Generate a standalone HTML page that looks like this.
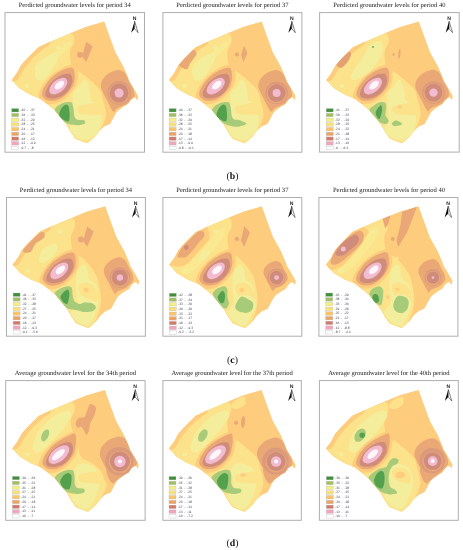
<!DOCTYPE html>
<html><head><meta charset="utf-8"><title>Groundwater level maps</title>
<style>
html,body{margin:0;padding:0;background:#fff}
svg{display:block;text-rendering:geometricPrecision}
.t{font-family:"Liberation Serif",serif;font-size:6.55px;fill:#1c1c1c}
.l{font-family:"Liberation Serif",serif;font-size:9.8px;fill:#111}
.g{font-family:"Liberation Sans",sans-serif;font-size:3.3px;fill:#4a4e58;word-spacing:.8px}
</style></head><body>
<svg width="463" height="550" viewBox="0 0 463 550">
<defs>
<filter id="bl" x="-5%" y="-5%" width="110%" height="110%"><feGaussianBlur stdDeviation="0.42"/></filter>
<filter id="bs" x="-10%" y="-5%" width="120%" height="110%"><feGaussianBlur stdDeviation="0.3"/></filter>
<filter id="bt"><feGaussianBlur stdDeviation="0.12"/></filter>

<clipPath id="oc"><path d="M11.7,80.0 L16.9,73.0 L21.1,65.2 L26.6,59.0 L38.1,47.4 L48.6,42.5 L61.6,36.9 L75.0,31.2 L86.2,26.7 L104.3,21.5 L108.9,34.4 L115.4,52.3 L123.5,66.8 L127.5,76.0 L129.5,81.5 L133.2,87.4 L136.1,92.5 L138.1,96.1 L137.6,99.4 L136.5,99.7 L135.6,97.6 L133.5,97.8 L130.6,100.1 L128.1,104.1 L123.7,106.6 L118.6,110.2 L116.0,113.1 L112.8,119.0 L110.1,123.9 L104.2,126.6 L99.3,130.9 L95.5,136.3 L91.2,140.1 L87.4,143.3 L81.5,141.2 L75.0,138.5 L70.5,132.0 L66.0,124.0 L60.9,117.9 L54.6,110.3 L45.9,103.0 L40.6,98.9 L29.8,94.6 L19.0,88.1Z"/></clipPath>
</defs>
<rect width="463" height="550" fill="#fff"/>
<!-- panel 1 -->
<g>
<text class="t" x="74.75" y="6.6" text-anchor="middle" filter="url(#bt)">Perdicted groundwater levels for period 34</text>
<rect x="5.0" y="12.6" width="139.5" height="139.6" fill="#fff" stroke="#aeaeae" stroke-width="1"/>
<g transform="translate(0,0)">
<g filter="url(#bl)"><g clip-path="url(#oc)">
<rect x="0" y="10" width="150" height="145" fill="#fecc7d"/>
<path fill="#fce28a" d="M9.0,80.0C7.3,74.3 15.5,67.7 20.0,62.0C24.5,56.3 29.3,50.5 36.0,46.0C42.7,41.5 54.0,37.0 60.0,35.0C66.0,33.0 69.7,32.8 72.0,34.0C74.3,35.2 74.3,39.0 74.0,42.0C73.7,45.0 70.3,48.0 70.0,52.0C69.7,56.0 70.3,62.7 72.0,66.0C73.7,69.3 77.0,69.7 80.0,72.0C83.0,74.3 86.7,77.0 90.0,80.0C93.3,83.0 97.8,86.7 100.0,90.0C102.2,93.3 102.0,95.8 103.0,100.0C104.0,104.2 106.5,110.0 106.0,115.0C105.5,120.0 103.2,124.8 100.0,130.0C96.8,135.2 92.0,145.2 87.0,146.0C82.0,146.8 76.2,141.3 70.0,135.0C63.8,128.7 56.7,114.5 50.0,108.0C43.3,101.5 36.8,100.7 30.0,96.0C23.2,91.3 10.7,85.7 9.0,80.0Z"/>
<path fill="#fecc7d" d="M10.0,80.0C9.8,78.7 13.7,75.3 16.0,72.0C18.3,68.7 20.5,64.3 24.0,60.0C27.5,55.7 33.0,49.2 37.0,46.0C41.0,42.8 45.8,41.3 48.0,41.0C50.2,40.7 51.0,42.5 50.0,44.0C49.0,45.5 45.0,47.5 42.0,50.0C39.0,52.5 35.0,55.8 32.0,59.0C29.0,62.2 26.5,65.5 24.0,69.0C21.5,72.5 19.3,78.2 17.0,80.0C14.7,81.8 10.2,81.3 10.0,80.0Z"/>
<path fill="#f8ea94" d="M53.0,54.0C53.5,52.3 57.0,50.8 59.0,49.0C61.0,47.2 63.2,44.8 65.0,43.5C66.8,42.2 69.0,41.2 70.0,41.5C71.0,41.8 71.7,43.6 71.0,45.0C70.3,46.4 67.8,48.2 66.0,50.0C64.2,51.8 61.7,54.5 60.0,56.0C58.3,57.5 57.2,59.3 56.0,59.0C54.8,58.7 52.5,55.7 53.0,54.0Z"/>
<path fill="#f4ee9c" d="M34.8,68.5C35.2,65.7 36.9,64.0 38.9,62.0C40.9,60.0 44.5,57.8 47.0,56.3C49.5,54.8 52.2,53.3 54.0,53.0C55.8,52.7 57.0,53.4 57.5,54.5C58.0,55.6 57.8,57.5 57.2,59.5C56.6,61.5 55.2,64.2 53.8,66.8C52.4,69.4 50.5,72.7 48.6,74.9C46.7,77.2 44.1,79.7 42.1,80.3C40.1,80.9 37.6,80.8 36.4,78.8C35.2,76.8 34.4,71.3 34.8,68.5Z"/>
<ellipse fill="#f4ee9c" cx="58.3" cy="47.4" rx="2.2" ry="2.2"/>
<ellipse fill="#f4ee9c" cx="27.0" cy="86.0" rx="2.5" ry="2.0"/>
<path fill="#f4ee9c" d="M73.0,93.0C73.8,90.3 76.2,90.2 78.0,88.0C79.8,85.8 82.3,80.7 84.0,80.0C85.7,79.3 87.0,81.8 88.0,84.0C89.0,86.2 89.5,90.3 90.0,93.0C90.5,95.7 89.8,98.2 91.0,100.0C92.2,101.8 95.3,102.3 97.0,104.0C98.7,105.7 100.3,106.5 101.0,110.0C101.7,113.5 101.8,120.9 101.0,125.0C100.2,129.1 98.8,131.9 96.5,134.4C94.2,136.9 90.7,139.5 87.4,140.0C84.2,140.5 79.9,139.3 77.0,137.5C74.1,135.7 70.5,132.2 70.0,129.0C69.5,125.8 73.5,122.2 74.0,118.0C74.5,113.8 73.2,108.2 73.0,104.0C72.8,99.8 72.2,95.7 73.0,93.0Z"/>
<path fill="#fce28a" d="M78.0,107.0C79.2,105.6 83.0,105.2 86.0,104.5C89.0,103.8 93.3,102.8 96.0,103.0C98.7,103.2 100.8,104.2 102.0,106.0C103.2,107.8 104.0,112.5 103.0,114.0C102.0,115.5 98.8,114.9 96.0,115.0C93.2,115.1 88.8,114.8 86.0,114.5C83.2,114.2 80.3,114.2 79.0,113.0C77.7,111.8 76.8,108.4 78.0,107.0Z"/>
<polygon fill="#e9a876" points="86.2,41.7 92.7,46.6 86.2,62.0 82.1,56.3"/>
<ellipse fill="#e9a876" cx="80.0" cy="54.7" rx="3.0" ry="3.0"/>
<path fill="#e9a876" d="M100.8,86.3C100.8,84.8 101.3,81.5 102.4,79.8C103.5,78.1 106.7,74.6 108.9,73.3C111.1,72.0 116.4,70.1 118.6,70.1C120.8,70.1 123.6,71.7 125.1,73.3C126.6,74.9 128.4,80.0 129.5,82.0C130.6,84.0 132.5,86.8 133.2,88.5C133.9,90.2 134.7,93.6 134.6,95.0C134.5,96.4 133.6,97.8 132.5,99.0C131.4,100.2 128.8,103.0 126.7,104.3C124.6,105.6 118.8,107.4 117.0,108.4C115.2,109.4 114.6,112.7 113.2,111.5C111.8,110.3 107.9,102.1 106.5,99.4C105.1,96.7 103.2,93.0 102.4,91.3C101.6,89.6 100.8,87.8 100.8,86.3Z"/>
<ellipse fill="#dc9a7c" cx="119.1" cy="93.0" rx="11.7" ry="11.7"/>
<ellipse fill="#e9a876" cx="119.1" cy="93.5" rx="10.6" ry="10.4"/>
<ellipse fill="#d08c7a" cx="119.1" cy="93.0" rx="9.4" ry="9.4"/>
<ellipse fill="#f2bbd0" cx="119.1" cy="93.0" rx="4.5" ry="4.5"/>
<path fill="#fecc7d" d="M76.2,65.5C77.3,67.1 78.1,72.8 78.0,75.9C77.9,79.0 77.2,83.1 75.6,86.2C74.0,89.3 70.1,94.1 67.3,96.7C64.5,99.2 60.2,102.1 57.0,103.1C53.8,104.2 48.5,104.5 45.8,103.7C43.1,103.0 39.8,100.1 38.9,98.3C37.9,96.5 38.5,94.1 39.3,91.7C40.2,89.4 42.6,85.3 44.5,82.7C46.4,80.2 49.2,76.9 51.8,74.7C54.5,72.5 59.3,69.4 62.1,67.9C64.9,66.4 68.3,65.1 70.4,64.7C72.5,64.4 75.0,63.8 76.2,65.5Z"/>
<path fill="#e9a876" d="M73.3,68.6C74.2,70.0 74.9,74.7 74.8,77.3C74.7,79.9 74.1,83.3 72.8,85.9C71.5,88.5 68.2,92.5 65.9,94.6C63.6,96.7 60.0,99.1 57.3,100.0C54.6,100.9 50.3,101.1 48.0,100.5C45.7,99.9 43.0,97.5 42.2,96.0C41.4,94.5 41.9,92.5 42.6,90.5C43.3,88.5 45.3,85.1 46.9,83.0C48.5,80.9 50.8,78.2 53.0,76.3C55.2,74.4 59.3,71.8 61.6,70.6C63.9,69.4 66.7,68.3 68.5,68.0C70.3,67.7 72.4,67.2 73.3,68.6Z"/>
<path fill="#d08c7a" d="M70.4,74.2C71.9,75.2 72.7,79.2 72.4,81.6C72.1,84.0 70.1,88.0 68.5,90.2C66.9,92.4 63.9,95.1 61.6,96.3C59.3,97.5 55.3,98.3 53.0,98.4C50.7,98.5 47.6,98.0 46.5,97.0C45.4,96.0 45.1,93.9 45.6,92.0C46.1,90.1 48.1,86.5 49.5,84.5C50.9,82.5 53.0,80.5 55.0,79.0C57.0,77.5 60.3,75.3 62.6,74.6C64.9,73.9 68.9,73.2 70.4,74.2Z"/>
<ellipse fill="#f2bbd0" cx="58.3" cy="86.1" rx="10.7" ry="6.0" transform="rotate(-40 58.3 86.1)"/>
<ellipse fill="#fff6fa" cx="59.4" cy="85.1" rx="5.7" ry="3.1" transform="rotate(-40 59.4 85.1)"/>
<path fill="#a8cb7a" d="M54.5,110.2C54.5,108.9 56.8,106.4 58.1,105.4C59.4,104.4 62.7,102.8 64.5,102.4C66.3,102.0 70.3,101.6 71.5,102.4C72.7,103.2 73.1,106.8 73.5,108.6C73.9,110.4 73.8,114.4 74.3,115.9C74.8,117.4 76.2,119.2 77.5,119.8C78.8,120.4 83.0,119.8 84.0,120.3C85.0,120.8 85.8,122.7 85.0,123.4C84.2,124.1 80.5,125.1 78.3,125.2C76.1,125.3 70.7,124.6 68.6,124.0C66.5,123.4 63.8,121.9 62.4,120.7C61.0,119.5 59.2,116.5 58.1,115.1C57.0,113.7 54.5,111.5 54.5,110.2Z"/>
<path fill="#52a04e" d="M59.2,113.5C59.5,112.1 60.9,108.9 62.0,107.5C63.1,106.1 65.3,104.5 66.3,104.4C67.3,104.3 68.3,105.3 68.8,107.0C69.3,108.7 69.6,113.4 69.6,115.5C69.6,117.6 69.4,120.6 68.6,121.3C67.8,122.0 65.3,120.7 64.0,120.0C62.7,119.3 60.7,117.9 60.0,116.9C59.3,115.9 58.9,114.9 59.2,113.5Z"/>
</g></g></g>
<g filter="url(#bs)">
<rect x="11.7" y="108.60" width="7" height="3.4" fill="#3f8f3a" stroke="#b8b8b8" stroke-width="0.35"/>
<text class="g" x="20.5" y="111.25">-40 - -37</text>
<rect x="11.7" y="113.32" width="7" height="3.4" fill="#a0c060" stroke="#b8b8b8" stroke-width="0.35"/>
<text class="g" x="20.5" y="115.97">-36 - -33</text>
<rect x="11.7" y="118.04" width="7" height="3.4" fill="#f6f07e" stroke="#b8b8b8" stroke-width="0.35"/>
<text class="g" x="20.5" y="120.69">-32 - -29</text>
<rect x="11.7" y="122.76" width="7" height="3.4" fill="#fde074" stroke="#b8b8b8" stroke-width="0.35"/>
<text class="g" x="20.5" y="125.41">-28 - -25</text>
<rect x="11.7" y="127.48" width="7" height="3.4" fill="#fdc465" stroke="#b8b8b8" stroke-width="0.35"/>
<text class="g" x="20.5" y="130.13">-24 - -21</text>
<rect x="11.7" y="132.20" width="7" height="3.4" fill="#f0a264" stroke="#b8b8b8" stroke-width="0.35"/>
<text class="g" x="20.5" y="134.85">-20 - -17</text>
<rect x="11.7" y="136.92" width="7" height="3.4" fill="#d47868" stroke="#b8b8b8" stroke-width="0.35"/>
<text class="g" x="20.5" y="139.57">-16 - -13</text>
<rect x="11.7" y="141.64" width="7" height="3.4" fill="#f2a4bc" stroke="#b8b8b8" stroke-width="0.35"/>
<text class="g" x="20.5" y="144.29">-12 - -9.9</text>
<rect x="11.7" y="146.36" width="7" height="3.4" fill="#ffffff" stroke="#b8b8b8" stroke-width="0.35"/>
<text class="g" x="20.5" y="149.01">-9.7 - -8</text>
</g>
<g filter="url(#bt)"><text x="134.6" y="19.7" font-family="Liberation Sans, sans-serif" font-size="5.1" font-weight="bold" text-anchor="middle" fill="#222">N</text><polygon points="134.6,21.2 131.1,32.7 134.6,28.799999999999997" fill="#111"/><polygon points="134.6,21.2 138.1,32.7 134.6,28.799999999999997" fill="#fff" stroke="#111" stroke-width="0.5" stroke-linejoin="miter"/></g>
</g>
<!-- panel 2 -->
<g>
<text class="t" x="232.40" y="6.6" text-anchor="middle" filter="url(#bt)">Perdicted groundwater levels for period 37</text>
<rect x="162.9" y="12.6" width="139.0" height="139.6" fill="#fff" stroke="#aeaeae" stroke-width="1"/>
<g transform="translate(157.4,0)">
<g filter="url(#bl)"><g clip-path="url(#oc)">
<rect x="0" y="10" width="150" height="145" fill="#fecc7d"/>
<path fill="#fce28a" d="M9.0,80.0C7.3,74.3 15.5,67.7 20.0,62.0C24.5,56.3 29.3,50.5 36.0,46.0C42.7,41.5 54.0,37.0 60.0,35.0C66.0,33.0 69.7,32.8 72.0,34.0C74.3,35.2 74.3,39.0 74.0,42.0C73.7,45.0 70.3,48.0 70.0,52.0C69.7,56.0 70.3,62.7 72.0,66.0C73.7,69.3 77.0,69.7 80.0,72.0C83.0,74.3 86.7,77.0 90.0,80.0C93.3,83.0 97.8,86.7 100.0,90.0C102.2,93.3 102.0,95.8 103.0,100.0C104.0,104.2 106.5,110.0 106.0,115.0C105.5,120.0 103.2,124.8 100.0,130.0C96.8,135.2 92.0,145.2 87.0,146.0C82.0,146.8 76.2,141.3 70.0,135.0C63.8,128.7 56.7,114.5 50.0,108.0C43.3,101.5 36.8,100.7 30.0,96.0C23.2,91.3 10.7,85.7 9.0,80.0Z"/>
<path fill="#fecc7d" d="M10.0,80.0C9.8,78.7 13.7,75.3 16.0,72.0C18.3,68.7 20.5,64.3 24.0,60.0C27.5,55.7 33.0,49.2 37.0,46.0C41.0,42.8 45.8,41.3 48.0,41.0C50.2,40.7 51.0,42.5 50.0,44.0C49.0,45.5 45.0,47.5 42.0,50.0C39.0,52.5 35.0,55.8 32.0,59.0C29.0,62.2 26.5,65.5 24.0,69.0C21.5,72.5 19.3,78.2 17.0,80.0C14.7,81.8 10.2,81.3 10.0,80.0Z"/>
<path fill="#f8ea94" d="M53.0,54.0C53.5,52.3 57.0,50.8 59.0,49.0C61.0,47.2 63.2,44.8 65.0,43.5C66.8,42.2 69.0,41.2 70.0,41.5C71.0,41.8 71.7,43.6 71.0,45.0C70.3,46.4 67.8,48.2 66.0,50.0C64.2,51.8 61.7,54.5 60.0,56.0C58.3,57.5 57.2,59.3 56.0,59.0C54.8,58.7 52.5,55.7 53.0,54.0Z"/>
<path fill="#f4ee9c" d="M34.8,68.5C35.2,65.7 36.9,64.0 38.9,62.0C40.9,60.0 44.5,57.8 47.0,56.3C49.5,54.8 52.2,53.3 54.0,53.0C55.8,52.7 57.0,53.4 57.5,54.5C58.0,55.6 57.8,57.5 57.2,59.5C56.6,61.5 55.2,64.2 53.8,66.8C52.4,69.4 50.5,72.7 48.6,74.9C46.7,77.2 44.1,79.7 42.1,80.3C40.1,80.9 37.6,80.8 36.4,78.8C35.2,76.8 34.4,71.3 34.8,68.5Z"/>
<ellipse fill="#f4ee9c" cx="58.3" cy="47.4" rx="2.2" ry="2.2"/>
<ellipse fill="#f4ee9c" cx="27.0" cy="86.0" rx="2.5" ry="2.0"/>
<path fill="#f4ee9c" d="M73.0,93.0C73.8,90.3 76.2,90.2 78.0,88.0C79.8,85.8 82.3,80.7 84.0,80.0C85.7,79.3 87.0,81.8 88.0,84.0C89.0,86.2 89.5,90.3 90.0,93.0C90.5,95.7 89.8,98.2 91.0,100.0C92.2,101.8 95.3,102.3 97.0,104.0C98.7,105.7 100.3,106.5 101.0,110.0C101.7,113.5 101.8,120.9 101.0,125.0C100.2,129.1 98.8,131.9 96.5,134.4C94.2,136.9 90.7,139.5 87.4,140.0C84.2,140.5 79.9,139.3 77.0,137.5C74.1,135.7 70.5,132.2 70.0,129.0C69.5,125.8 73.5,122.2 74.0,118.0C74.5,113.8 73.2,108.2 73.0,104.0C72.8,99.8 72.2,95.7 73.0,93.0Z"/>
<path fill="#fce28a" d="M78.0,107.0C79.2,105.6 83.0,105.2 86.0,104.5C89.0,103.8 93.3,102.8 96.0,103.0C98.7,103.2 100.8,104.2 102.0,106.0C103.2,107.8 104.0,112.5 103.0,114.0C102.0,115.5 98.8,114.9 96.0,115.0C93.2,115.1 88.8,114.8 86.0,114.5C83.2,114.2 80.3,114.2 79.0,113.0C77.7,111.8 76.8,108.4 78.0,107.0Z"/>
<path fill="#e9a876" d="M20.8,64.4C20.6,62.6 25.9,57.8 27.8,55.8C29.7,53.8 33.4,49.6 34.9,49.3C36.5,49.1 39.4,52.1 39.2,53.9C38.9,55.7 34.3,60.7 33.0,62.8C31.7,64.8 31.1,69.0 29.4,69.3C27.8,69.5 21.1,66.2 20.8,64.4Z"/>
<polygon fill="#e9a876" points="86.8,45.8 90.0,53.1 86.0,62.0 83.6,54.7"/>
<ellipse fill="#e9a876" cx="79.5" cy="54.4" rx="2.0" ry="2.0"/>
<path fill="#e9a876" d="M100.9,86.3C100.9,84.8 101.4,81.5 102.5,79.8C103.6,78.1 106.8,74.6 109.0,73.3C111.2,72.0 116.5,70.1 118.7,70.1C120.9,70.1 123.7,71.7 125.2,73.3C126.7,74.9 128.5,80.0 129.6,82.0C130.7,84.0 132.6,86.8 133.3,88.5C134.0,90.2 134.8,93.6 134.7,95.0C134.6,96.4 133.7,97.8 132.6,99.0C131.5,100.2 128.9,103.0 126.8,104.3C124.7,105.6 118.9,107.4 117.1,108.4C115.3,109.4 114.7,112.7 113.3,111.5C111.9,110.3 108.0,102.1 106.6,99.4C105.2,96.7 103.3,93.0 102.5,91.3C101.7,89.6 100.9,87.8 100.9,86.3Z"/>
<ellipse fill="#dc9a7c" cx="119.2" cy="93.0" rx="11.2" ry="11.2"/>
<ellipse fill="#e9a876" cx="119.2" cy="93.5" rx="10.1" ry="9.9"/>
<ellipse fill="#d08c7a" cx="119.2" cy="93.0" rx="8.9" ry="8.9"/>
<ellipse fill="#f2bbd0" cx="119.2" cy="93.0" rx="4.0" ry="4.0"/>
<path fill="#fecc7d" d="M76.2,65.5C77.3,67.1 78.1,72.8 78.0,75.9C77.9,79.0 77.2,83.1 75.6,86.2C74.0,89.3 70.1,94.1 67.3,96.7C64.5,99.2 60.2,102.1 57.0,103.1C53.8,104.2 48.5,104.5 45.8,103.7C43.1,103.0 39.8,100.1 38.9,98.3C37.9,96.5 38.5,94.1 39.3,91.7C40.2,89.4 42.6,85.3 44.5,82.7C46.4,80.2 49.2,76.9 51.8,74.7C54.5,72.5 59.3,69.4 62.1,67.9C64.9,66.4 68.3,65.1 70.4,64.7C72.5,64.4 75.0,63.8 76.2,65.5Z"/>
<path fill="#e9a876" d="M73.3,68.6C74.2,70.0 74.9,74.7 74.8,77.3C74.7,79.9 74.1,83.3 72.8,85.9C71.5,88.5 68.2,92.5 65.9,94.6C63.6,96.7 60.0,99.1 57.3,100.0C54.6,100.9 50.3,101.1 48.0,100.5C45.7,99.9 43.0,97.5 42.2,96.0C41.4,94.5 41.9,92.5 42.6,90.5C43.3,88.5 45.3,85.1 46.9,83.0C48.5,80.9 50.8,78.2 53.0,76.3C55.2,74.4 59.3,71.8 61.6,70.6C63.9,69.4 66.7,68.3 68.5,68.0C70.3,67.7 72.4,67.2 73.3,68.6Z"/>
<path fill="#d08c7a" d="M70.4,74.2C71.9,75.2 72.7,79.2 72.4,81.6C72.1,84.0 70.1,88.0 68.5,90.2C66.9,92.4 63.9,95.1 61.6,96.3C59.3,97.5 55.3,98.3 53.0,98.4C50.7,98.5 47.6,98.0 46.5,97.0C45.4,96.0 45.1,93.9 45.6,92.0C46.1,90.1 48.1,86.5 49.5,84.5C50.9,82.5 53.0,80.5 55.0,79.0C57.0,77.5 60.3,75.3 62.6,74.6C64.9,73.9 68.9,73.2 70.4,74.2Z"/>
<ellipse fill="#f2bbd0" cx="58.3" cy="86.1" rx="10.7" ry="6.0" transform="rotate(-40 58.3 86.1)"/>
<ellipse fill="#fff6fa" cx="59.4" cy="85.1" rx="5.7" ry="3.1" transform="rotate(-40 59.4 85.1)"/>
<path fill="#a8cb7a" d="M54.5,110.2C54.5,108.9 56.8,106.4 58.1,105.4C59.4,104.4 62.7,102.8 64.5,102.4C66.3,102.0 70.3,101.6 71.5,102.4C72.7,103.2 73.1,106.8 73.5,108.6C73.9,110.4 73.8,114.4 74.3,115.9C74.8,117.4 76.0,119.0 77.0,119.5C78.0,120.0 80.4,119.4 82.0,120.0C83.6,120.6 89.2,122.8 89.2,123.7C89.2,124.6 83.8,126.1 82.0,126.5C80.2,126.9 77.8,126.8 76.0,126.5C74.2,126.2 70.4,125.3 68.6,124.5C66.8,123.7 63.8,122.0 62.4,120.7C61.0,119.4 59.2,116.5 58.1,115.1C57.0,113.7 54.5,111.5 54.5,110.2Z"/>
<path fill="#52a04e" d="M59.2,113.5C59.5,112.1 60.9,108.9 62.0,107.5C63.1,106.1 65.3,104.5 66.3,104.4C67.3,104.3 68.3,105.3 68.8,107.0C69.3,108.7 69.6,113.4 69.6,115.5C69.6,117.6 69.4,120.6 68.6,121.3C67.8,122.0 65.3,120.7 64.0,120.0C62.7,119.3 60.7,117.9 60.0,116.9C59.3,115.9 58.9,114.9 59.2,113.5Z"/>
</g></g></g>
<g filter="url(#bs)">
<rect x="169.1" y="108.60" width="7" height="3.4" fill="#3f8f3a" stroke="#b8b8b8" stroke-width="0.35"/>
<text class="g" x="177.9" y="111.25">-40 - -37</text>
<rect x="169.1" y="113.32" width="7" height="3.4" fill="#a0c060" stroke="#b8b8b8" stroke-width="0.35"/>
<text class="g" x="177.9" y="115.97">-36 - -33</text>
<rect x="169.1" y="118.04" width="7" height="3.4" fill="#f6f07e" stroke="#b8b8b8" stroke-width="0.35"/>
<text class="g" x="177.9" y="120.69">-32 - -29</text>
<rect x="169.1" y="122.76" width="7" height="3.4" fill="#fde074" stroke="#b8b8b8" stroke-width="0.35"/>
<text class="g" x="177.9" y="125.41">-28 - -25</text>
<rect x="169.1" y="127.48" width="7" height="3.4" fill="#fdc465" stroke="#b8b8b8" stroke-width="0.35"/>
<text class="g" x="177.9" y="130.13">-24 - -21</text>
<rect x="169.1" y="132.20" width="7" height="3.4" fill="#f0a264" stroke="#b8b8b8" stroke-width="0.35"/>
<text class="g" x="177.9" y="134.85">-20 - -18</text>
<rect x="169.1" y="136.92" width="7" height="3.4" fill="#d47868" stroke="#b8b8b8" stroke-width="0.35"/>
<text class="g" x="177.9" y="139.57">-17 - -14</text>
<rect x="169.1" y="141.64" width="7" height="3.4" fill="#f2a4bc" stroke="#b8b8b8" stroke-width="0.35"/>
<text class="g" x="177.9" y="144.29">-13 - -9.9</text>
<rect x="169.1" y="146.36" width="7" height="3.4" fill="#ffffff" stroke="#b8b8b8" stroke-width="0.35"/>
<text class="g" x="177.9" y="149.01">-9.8 - -6.1</text>
</g>
<g filter="url(#bt)"><text x="291.8" y="19.7" font-family="Liberation Sans, sans-serif" font-size="5.1" font-weight="bold" text-anchor="middle" fill="#222">N</text><polygon points="291.8,21.2 288.3,32.7 291.8,28.799999999999997" fill="#111"/><polygon points="291.8,21.2 295.3,32.7 291.8,28.799999999999997" fill="#fff" stroke="#111" stroke-width="0.5" stroke-linejoin="miter"/></g>
</g>
<!-- panel 3 -->
<g>
<text class="t" x="389.40" y="6.6" text-anchor="middle" filter="url(#bt)">Perdicted groundwater levels for period 40</text>
<rect x="319.6" y="12.6" width="139.6" height="139.5" fill="#fff" stroke="#aeaeae" stroke-width="1"/>
<g transform="translate(314.6,0)">
<g filter="url(#bl)"><g clip-path="url(#oc)">
<rect x="0" y="10" width="150" height="145" fill="#fecc7d"/>
<path fill="#fce28a" d="M9.0,80.0C7.3,74.3 15.5,67.7 20.0,62.0C24.5,56.3 29.3,50.5 36.0,46.0C42.7,41.5 54.0,37.0 60.0,35.0C66.0,33.0 69.7,32.8 72.0,34.0C74.3,35.2 74.3,39.0 74.0,42.0C73.7,45.0 70.3,48.0 70.0,52.0C69.7,56.0 70.3,62.7 72.0,66.0C73.7,69.3 77.0,69.7 80.0,72.0C83.0,74.3 86.7,77.0 90.0,80.0C93.3,83.0 97.8,86.7 100.0,90.0C102.2,93.3 102.0,95.8 103.0,100.0C104.0,104.2 106.5,110.0 106.0,115.0C105.5,120.0 103.2,124.8 100.0,130.0C96.8,135.2 92.0,145.2 87.0,146.0C82.0,146.8 76.2,141.3 70.0,135.0C63.8,128.7 56.7,114.5 50.0,108.0C43.3,101.5 36.8,100.7 30.0,96.0C23.2,91.3 10.7,85.7 9.0,80.0Z"/>
<path fill="#fecc7d" d="M10.0,80.0C9.8,78.7 13.7,75.3 16.0,72.0C18.3,68.7 20.5,64.3 24.0,60.0C27.5,55.7 33.0,49.2 37.0,46.0C41.0,42.8 45.8,41.3 48.0,41.0C50.2,40.7 51.0,42.5 50.0,44.0C49.0,45.5 45.0,47.5 42.0,50.0C39.0,52.5 35.0,55.8 32.0,59.0C29.0,62.2 26.5,65.5 24.0,69.0C21.5,72.5 19.3,78.2 17.0,80.0C14.7,81.8 10.2,81.3 10.0,80.0Z"/>
<path fill="#f4ee9c" d="M36.2,77.4C36.2,75.5 38.3,71.8 40.3,68.5C42.3,65.1 45.9,60.9 48.4,57.1C50.8,53.3 52.4,48.5 54.9,45.8C57.3,43.1 60.8,41.2 63.0,40.9C65.1,40.6 67.3,41.7 67.8,44.2C68.4,46.6 67.8,51.4 66.2,55.5C64.6,59.5 61.1,64.9 58.1,68.5C55.1,72.0 51.3,74.7 48.4,76.6C45.4,78.4 42.3,79.7 40.3,79.8C38.3,79.9 36.2,79.3 36.2,77.4Z"/>
<ellipse fill="#f4ee9c" cx="27.0" cy="86.0" rx="2.5" ry="2.0"/>
<path fill="#f4ee9c" d="M73.0,93.0C73.8,90.3 76.2,90.2 78.0,88.0C79.8,85.8 82.3,80.7 84.0,80.0C85.7,79.3 87.0,81.8 88.0,84.0C89.0,86.2 89.5,90.3 90.0,93.0C90.5,95.7 89.8,98.2 91.0,100.0C92.2,101.8 95.3,102.3 97.0,104.0C98.7,105.7 100.3,106.5 101.0,110.0C101.7,113.5 101.8,120.9 101.0,125.0C100.2,129.1 98.8,131.9 96.5,134.4C94.2,136.9 90.7,139.5 87.4,140.0C84.2,140.5 79.9,139.3 77.0,137.5C74.1,135.7 70.5,132.2 70.0,129.0C69.5,125.8 73.5,122.2 74.0,118.0C74.5,113.8 73.2,108.2 73.0,104.0C72.8,99.8 72.2,95.7 73.0,93.0Z"/>
<path fill="#fce28a" d="M78.0,107.0C79.2,105.6 83.0,105.2 86.0,104.5C89.0,103.8 93.3,102.8 96.0,103.0C98.7,103.2 100.8,104.2 102.0,106.0C103.2,107.8 104.0,112.5 103.0,114.0C102.0,115.5 98.8,114.9 96.0,115.0C93.2,115.1 88.8,114.8 86.0,114.5C83.2,114.2 80.3,114.2 79.0,113.0C77.7,111.8 76.8,108.4 78.0,107.0Z"/>
<path fill="#e2a073" d="M22.1,63.6C22.9,62.2 27.2,57.9 28.9,56.3C30.7,54.7 34.4,51.6 35.4,51.4C36.4,51.3 36.6,54.1 36.2,55.5C35.9,56.9 34.2,60.4 33.0,62.0C31.8,63.6 28.6,67.0 27.3,67.6C26.0,68.3 24.0,67.4 23.3,66.8C22.6,66.3 21.4,65.0 22.1,63.6Z"/>
<ellipse fill="#52a04e" cx="58.4" cy="46.9" rx="0.9" ry="0.9"/>
<ellipse fill="#e9a876" cx="84.8" cy="53.9" rx="1.0" ry="4.9" transform="rotate(5 84.8 53.9)"/>
<ellipse fill="#e9a876" cx="79.0" cy="54.4" rx="1.2" ry="1.2"/>
<ellipse fill="#fecc7d" cx="85.2" cy="106.7" rx="2.0" ry="2.0"/>
<path fill="#e9a876" d="M100.6,85.9C100.6,84.4 101.1,81.1 102.2,79.4C103.3,77.7 106.5,74.2 108.7,72.9C110.9,71.6 116.2,69.7 118.4,69.7C120.6,69.7 123.4,71.3 124.9,72.9C126.4,74.5 128.2,79.6 129.3,81.6C130.4,83.6 132.3,86.4 133.0,88.1C133.7,89.8 134.5,93.2 134.4,94.6C134.3,96.0 133.4,97.4 132.3,98.6C131.2,99.8 128.6,102.6 126.5,103.9C124.4,105.2 118.6,107.0 116.8,108.0C115.0,109.0 114.4,112.3 113.0,111.1C111.6,109.9 107.7,101.7 106.3,99.0C104.9,96.3 103.0,92.6 102.2,90.9C101.4,89.2 100.6,87.4 100.6,85.9Z"/>
<ellipse fill="#dc9a7c" cx="118.9" cy="92.6" rx="11.3" ry="11.3"/>
<ellipse fill="#e9a876" cx="118.9" cy="93.1" rx="10.2" ry="10.0"/>
<ellipse fill="#d08c7a" cx="118.9" cy="92.6" rx="9.0" ry="9.0"/>
<ellipse fill="#f2bbd0" cx="118.9" cy="92.6" rx="4.2" ry="4.2"/>
<path fill="#fecc7d" d="M76.2,65.5C77.3,67.1 78.1,72.8 78.0,75.9C77.9,79.0 77.2,83.1 75.6,86.2C74.0,89.3 70.1,94.1 67.3,96.7C64.5,99.2 60.2,102.1 57.0,103.1C53.8,104.2 48.5,104.5 45.8,103.7C43.1,103.0 39.8,100.1 38.9,98.3C37.9,96.5 38.5,94.1 39.3,91.7C40.2,89.4 42.6,85.3 44.5,82.7C46.4,80.2 49.2,76.9 51.8,74.7C54.5,72.5 59.3,69.4 62.1,67.9C64.9,66.4 68.3,65.1 70.4,64.7C72.5,64.4 75.0,63.8 76.2,65.5Z"/>
<path fill="#e9a876" d="M73.3,68.6C74.2,70.0 74.9,74.7 74.8,77.3C74.7,79.9 74.1,83.3 72.8,85.9C71.5,88.5 68.2,92.5 65.9,94.6C63.6,96.7 60.0,99.1 57.3,100.0C54.6,100.9 50.3,101.1 48.0,100.5C45.7,99.9 43.0,97.5 42.2,96.0C41.4,94.5 41.9,92.5 42.6,90.5C43.3,88.5 45.3,85.1 46.9,83.0C48.5,80.9 50.8,78.2 53.0,76.3C55.2,74.4 59.3,71.8 61.6,70.6C63.9,69.4 66.7,68.3 68.5,68.0C70.3,67.7 72.4,67.2 73.3,68.6Z"/>
<path fill="#d08c7a" d="M70.4,74.2C71.9,75.2 72.7,79.2 72.4,81.6C72.1,84.0 70.1,88.0 68.5,90.2C66.9,92.4 63.9,95.1 61.6,96.3C59.3,97.5 55.3,98.3 53.0,98.4C50.7,98.5 47.6,98.0 46.5,97.0C45.4,96.0 45.1,93.9 45.6,92.0C46.1,90.1 48.1,86.5 49.5,84.5C50.9,82.5 53.0,80.5 55.0,79.0C57.0,77.5 60.3,75.3 62.6,74.6C64.9,73.9 68.9,73.2 70.4,74.2Z"/>
<ellipse fill="#f2bbd0" cx="58.3" cy="86.1" rx="10.7" ry="6.0" transform="rotate(-40 58.3 86.1)"/>
<ellipse fill="#fff6fa" cx="59.4" cy="85.1" rx="5.7" ry="3.1" transform="rotate(-40 59.4 85.1)"/>
<path fill="#a8cb7a" d="M54.6,110.2C54.5,108.7 58.0,106.4 59.5,105.4C61.0,104.3 64.4,102.4 65.9,102.1C67.5,101.8 70.1,102.1 70.8,102.9C71.6,103.8 71.6,107.0 71.6,108.6C71.6,110.2 70.5,113.5 70.8,115.1C71.1,116.7 73.9,119.6 74.0,120.7C74.2,121.9 72.8,123.8 71.6,124.0C70.4,124.2 66.6,123.3 65.1,122.4C63.6,121.4 61.7,118.3 60.3,116.7C58.9,115.1 54.7,111.7 54.6,110.2Z"/>
<path fill="#52a04e" d="M61.1,111.8C61.4,110.6 63.6,107.8 64.3,107.0C65.1,106.1 66.3,104.9 66.8,105.4C67.2,105.8 67.7,108.7 67.6,110.2C67.5,111.7 66.4,115.5 65.9,116.7C65.5,117.9 64.9,119.2 64.3,119.1C63.8,119.0 62.3,116.9 61.9,115.9C61.5,114.9 60.8,113.0 61.1,111.8Z"/>
<path fill="#a8cb7a" d="M77.1,123.7C77.2,123.0 79.5,120.9 80.5,120.6C81.5,120.3 83.6,121.1 84.5,121.5C85.4,121.9 87.7,123.4 87.6,123.9C87.5,124.4 85.0,125.3 84.0,125.6C83.0,125.9 80.9,126.5 80.0,126.2C79.1,125.9 77.0,124.4 77.1,123.7Z"/>
</g></g></g>
<g filter="url(#bs)">
<rect x="326.2" y="108.60" width="7" height="3.4" fill="#3f8f3a" stroke="#b8b8b8" stroke-width="0.35"/>
<text class="g" x="335.0" y="111.25">-41 - -37</text>
<rect x="326.2" y="113.32" width="7" height="3.4" fill="#a0c060" stroke="#b8b8b8" stroke-width="0.35"/>
<text class="g" x="335.0" y="115.97">-36 - -33</text>
<rect x="326.2" y="118.04" width="7" height="3.4" fill="#f6f07e" stroke="#b8b8b8" stroke-width="0.35"/>
<text class="g" x="335.0" y="120.69">-32 - -29</text>
<rect x="326.2" y="122.76" width="7" height="3.4" fill="#fde074" stroke="#b8b8b8" stroke-width="0.35"/>
<text class="g" x="335.0" y="125.41">-28 - -25</text>
<rect x="326.2" y="127.48" width="7" height="3.4" fill="#fdc465" stroke="#b8b8b8" stroke-width="0.35"/>
<text class="g" x="335.0" y="130.13">-24 - -22</text>
<rect x="326.2" y="132.20" width="7" height="3.4" fill="#f0a264" stroke="#b8b8b8" stroke-width="0.35"/>
<text class="g" x="335.0" y="134.85">-21 - -18</text>
<rect x="326.2" y="136.92" width="7" height="3.4" fill="#d47868" stroke="#b8b8b8" stroke-width="0.35"/>
<text class="g" x="335.0" y="139.57">-17 - -14</text>
<rect x="326.2" y="141.64" width="7" height="3.4" fill="#f2a4bc" stroke="#b8b8b8" stroke-width="0.35"/>
<text class="g" x="335.0" y="144.29">-13 - -10</text>
<rect x="326.2" y="146.36" width="7" height="3.4" fill="#ffffff" stroke="#b8b8b8" stroke-width="0.35"/>
<text class="g" x="335.0" y="149.01">-9 - -6.3</text>
</g>
<g filter="url(#bt)"><text x="449.1" y="19.7" font-family="Liberation Sans, sans-serif" font-size="5.1" font-weight="bold" text-anchor="middle" fill="#222">N</text><polygon points="449.1,21.2 445.6,32.7 449.1,28.799999999999997" fill="#111"/><polygon points="449.1,21.2 452.6,32.7 449.1,28.799999999999997" fill="#fff" stroke="#111" stroke-width="0.5" stroke-linejoin="miter"/></g>
</g>
<!-- panel 4 -->
<g>
<text class="t" x="75.95" y="191.8" text-anchor="middle" filter="url(#bt)">Perdicted groundwater levels for period 34</text>
<rect x="6.5" y="197.5" width="138.9" height="138.7" fill="#fff" stroke="#aeaeae" stroke-width="1"/>
<g transform="translate(1.0,184.8)">
<g filter="url(#bl)"><g clip-path="url(#oc)">
<rect x="0" y="10" width="150" height="145" fill="#fecc7d"/>
<path fill="#fce28a" d="M9.0,80.0C7.3,74.3 15.5,67.7 20.0,62.0C24.5,56.3 29.3,50.5 36.0,46.0C42.7,41.5 54.0,37.0 60.0,35.0C66.0,33.0 69.7,32.8 72.0,34.0C74.3,35.2 74.3,39.0 74.0,42.0C73.7,45.0 70.3,48.0 70.0,52.0C69.7,56.0 70.3,62.7 72.0,66.0C73.7,69.3 77.3,69.7 80.0,72.0C82.7,74.3 85.5,77.0 88.0,80.0C90.5,83.0 93.3,86.7 95.0,90.0C96.7,93.3 97.2,95.8 98.0,100.0C98.8,104.2 100.2,110.0 100.0,115.0C99.8,120.0 99.2,124.8 97.0,130.0C94.8,135.2 91.5,145.2 87.0,146.0C82.5,146.8 76.2,141.3 70.0,135.0C63.8,128.7 56.7,114.5 50.0,108.0C43.3,101.5 36.8,100.7 30.0,96.0C23.2,91.3 10.7,85.7 9.0,80.0Z"/>
<path fill="#fecc7d" d="M10.0,80.0C9.8,78.7 13.7,75.3 16.0,72.0C18.3,68.7 20.5,64.3 24.0,60.0C27.5,55.7 33.0,49.2 37.0,46.0C41.0,42.8 45.8,41.3 48.0,41.0C50.2,40.7 51.0,42.5 50.0,44.0C49.0,45.5 45.0,47.5 42.0,50.0C39.0,52.5 35.0,55.8 32.0,59.0C29.0,62.2 26.5,65.5 24.0,69.0C21.5,72.5 19.3,78.2 17.0,80.0C14.7,81.8 10.2,81.3 10.0,80.0Z"/>
<path fill="#f4ee9c" d="M37.9,75.1C37.9,73.0 39.5,67.8 41.1,65.4C42.7,63.0 45.4,61.6 47.6,60.6C49.8,59.5 52.6,58.7 54.1,58.9C55.6,59.2 56.5,60.6 56.5,62.2C56.5,63.8 55.6,66.5 54.1,68.7C52.6,70.8 49.8,73.5 47.6,75.1C45.4,76.8 42.7,78.4 41.1,78.4C39.5,78.4 37.9,77.3 37.9,75.1Z"/>
<ellipse fill="#f4ee9c" cx="58.9" cy="46.8" rx="2.4" ry="2.4"/>
<ellipse fill="#f4ee9c" cx="27.0" cy="86.0" rx="2.5" ry="2.0"/>
<path fill="#f4ee9c" d="M76.0,88.0C77.2,84.0 80.3,80.7 82.0,80.0C83.7,79.3 85.0,81.7 86.0,84.0C87.0,86.3 86.5,91.3 88.0,94.0C89.5,96.7 93.5,97.3 95.0,100.0C96.5,102.7 96.8,106.0 97.0,110.0C97.2,114.0 97.5,119.0 96.0,124.0C94.5,129.0 91.0,137.7 88.0,140.0C85.0,142.3 81.0,140.0 78.0,138.0C75.0,136.0 70.3,131.3 70.0,128.0C69.7,124.7 75.2,122.0 76.0,118.0C76.8,114.0 75.0,109.0 75.0,104.0C75.0,99.0 74.8,92.0 76.0,88.0Z"/>
<path fill="#fce28a" d="M78.0,100.0C79.3,98.0 85.0,97.0 88.0,98.0C91.0,99.0 94.7,103.0 96.0,106.0C97.3,109.0 97.3,114.7 96.0,116.0C94.7,117.3 90.7,115.0 88.0,114.0C85.3,113.0 81.7,112.3 80.0,110.0C78.3,107.7 76.7,102.0 78.0,100.0Z"/>
<path fill="#e9a876" d="M22.5,64.6C23.6,62.9 29.1,57.2 31.4,54.9C33.7,52.6 37.9,48.5 39.5,47.6C41.1,46.7 43.1,47.7 43.5,48.4C44.0,49.2 43.9,51.9 42.7,53.3C41.5,54.7 36.4,57.1 34.6,58.9C32.9,60.8 31.3,65.8 29.8,67.0C28.3,68.2 24.3,68.2 23.3,67.8C22.3,67.5 21.4,66.3 22.5,64.6Z"/>
<ellipse fill="#fecc7d" cx="85.2" cy="105.3" rx="2.5" ry="2.3"/>
<polygon fill="#e9a876" points="86.2,41.7 92.7,46.6 86.2,62.0 82.1,56.3"/>
<ellipse fill="#e9a876" cx="80.0" cy="54.7" rx="3.0" ry="3.0"/>
<path fill="#e9a876" d="M102.8,86.8C102.8,85.4 103.3,82.6 104.2,81.1C105.2,79.6 108.0,76.5 109.9,75.4C111.8,74.2 116.6,72.5 118.5,72.5C120.4,72.5 122.9,74.0 124.2,75.4C125.5,76.8 127.1,81.2 128.1,83.0C129.0,84.8 130.7,87.2 131.3,88.7C131.9,90.3 132.6,93.2 132.5,94.5C132.5,95.7 131.6,96.9 130.7,98.0C129.8,99.1 127.4,101.5 125.6,102.6C123.8,103.7 118.6,105.4 117.1,106.2C115.5,107.1 114.9,110.0 113.7,109.0C112.5,107.9 109.1,100.7 107.8,98.3C106.5,96.0 104.9,92.7 104.2,91.2C103.5,89.7 102.8,88.1 102.8,86.8Z"/>
<ellipse fill="#dc9a7c" cx="118.9" cy="92.8" rx="10.4" ry="10.4"/>
<ellipse fill="#e9a876" cx="118.9" cy="93.3" rx="9.3" ry="9.1"/>
<ellipse fill="#d08c7a" cx="118.9" cy="92.8" rx="8.1" ry="8.1"/>
<ellipse fill="#f2bbd0" cx="118.9" cy="92.8" rx="3.2" ry="3.2"/>
<path fill="#fecc7d" d="M76.2,65.5C77.3,67.1 78.1,72.8 78.0,75.9C77.9,79.0 77.2,83.1 75.6,86.2C74.0,89.3 70.1,94.1 67.3,96.7C64.5,99.2 60.2,102.1 57.0,103.1C53.8,104.2 48.5,104.5 45.8,103.7C43.1,103.0 39.8,100.1 38.9,98.3C37.9,96.5 38.5,94.1 39.3,91.7C40.2,89.4 42.6,85.3 44.5,82.7C46.4,80.2 49.2,76.9 51.8,74.7C54.5,72.5 59.3,69.4 62.1,67.9C64.9,66.4 68.3,65.1 70.4,64.7C72.5,64.4 75.0,63.8 76.2,65.5Z"/>
<path fill="#e9a876" d="M73.3,68.6C74.2,70.0 74.9,74.7 74.8,77.3C74.7,79.9 74.1,83.3 72.8,85.9C71.5,88.5 68.2,92.5 65.9,94.6C63.6,96.7 60.0,99.1 57.3,100.0C54.6,100.9 50.3,101.1 48.0,100.5C45.7,99.9 43.0,97.5 42.2,96.0C41.4,94.5 41.9,92.5 42.6,90.5C43.3,88.5 45.3,85.1 46.9,83.0C48.5,80.9 50.8,78.2 53.0,76.3C55.2,74.4 59.3,71.8 61.6,70.6C63.9,69.4 66.7,68.3 68.5,68.0C70.3,67.7 72.4,67.2 73.3,68.6Z"/>
<path fill="#d08c7a" d="M70.4,74.2C71.9,75.2 72.7,79.2 72.4,81.6C72.1,84.0 70.1,88.0 68.5,90.2C66.9,92.4 63.9,95.1 61.6,96.3C59.3,97.5 55.3,98.3 53.0,98.4C50.7,98.5 47.6,98.0 46.5,97.0C45.4,96.0 45.1,93.9 45.6,92.0C46.1,90.1 48.1,86.5 49.5,84.5C50.9,82.5 53.0,80.5 55.0,79.0C57.0,77.5 60.3,75.3 62.6,74.6C64.9,73.9 68.9,73.2 70.4,74.2Z"/>
<ellipse fill="#f2bbd0" cx="58.3" cy="86.1" rx="10.7" ry="6.0" transform="rotate(-40 58.3 86.1)"/>
<ellipse fill="#fff6fa" cx="59.4" cy="85.1" rx="5.7" ry="3.1" transform="rotate(-40 59.4 85.1)"/>
<path fill="#a8cb7a" d="M53.8,108.8C53.6,107.2 56.3,105.7 57.9,104.7C59.5,103.7 64.3,101.7 66.0,101.5C67.7,101.3 70.1,101.9 70.8,103.1C71.5,104.3 71.3,108.7 71.6,110.4C71.9,112.1 72.3,114.9 73.3,116.1C74.3,117.3 77.5,119.1 78.9,119.3C80.3,119.5 81.9,117.9 83.6,117.8C85.3,117.7 90.2,118.2 91.7,118.8C93.2,119.4 94.9,121.6 94.9,122.6C94.9,123.6 93.2,125.8 91.7,126.4C90.2,127.0 85.5,127.3 83.6,127.2C81.7,127.1 79.4,126.1 77.1,125.6C74.8,125.1 68.3,124.6 66.0,123.4C63.7,122.2 61.1,118.8 59.5,116.9C57.9,115.0 54.0,110.4 53.8,108.8Z"/>
<path fill="#52a04e" d="M59.5,112.0C59.6,110.7 61.8,108.1 62.7,107.2C63.7,106.2 66.0,104.5 66.8,104.7C67.5,105.0 68.3,107.4 68.4,108.8C68.5,110.2 67.9,113.9 67.6,115.3C67.3,116.7 66.7,119.1 66.0,119.3C65.2,119.5 62.8,117.9 61.9,116.9C61.1,115.9 59.4,113.3 59.5,112.0Z"/>
</g></g></g>
<g filter="url(#bs)">
<rect x="13.1" y="293.00" width="7" height="3.4" fill="#3f8f3a" stroke="#b8b8b8" stroke-width="0.35"/>
<text class="g" x="21.9" y="295.65">-41 - -37</text>
<rect x="13.1" y="297.70" width="7" height="3.4" fill="#a0c060" stroke="#b8b8b8" stroke-width="0.35"/>
<text class="g" x="21.9" y="300.35">-36 - -33</text>
<rect x="13.1" y="302.40" width="7" height="3.4" fill="#f6f07e" stroke="#b8b8b8" stroke-width="0.35"/>
<text class="g" x="21.9" y="305.05">-32 - -28</text>
<rect x="13.1" y="307.10" width="7" height="3.4" fill="#fde074" stroke="#b8b8b8" stroke-width="0.35"/>
<text class="g" x="21.9" y="309.75">-27 - -25</text>
<rect x="13.1" y="311.80" width="7" height="3.4" fill="#fdc465" stroke="#b8b8b8" stroke-width="0.35"/>
<text class="g" x="21.9" y="314.45">-24 - -21</text>
<rect x="13.1" y="316.50" width="7" height="3.4" fill="#f0a264" stroke="#b8b8b8" stroke-width="0.35"/>
<text class="g" x="21.9" y="319.15">-20 - -17</text>
<rect x="13.1" y="321.20" width="7" height="3.4" fill="#d47868" stroke="#b8b8b8" stroke-width="0.35"/>
<text class="g" x="21.9" y="323.85">-16 - -13</text>
<rect x="13.1" y="325.90" width="7" height="3.4" fill="#f2a4bc" stroke="#b8b8b8" stroke-width="0.35"/>
<text class="g" x="21.9" y="328.55">-12 - -9.3</text>
<rect x="13.1" y="330.60" width="7" height="3.4" fill="#ffffff" stroke="#b8b8b8" stroke-width="0.35"/>
<text class="g" x="21.9" y="333.25">-9.1 - -5.6</text>
</g>
<g filter="url(#bt)"><text x="135.5" y="204.5" font-family="Liberation Sans, sans-serif" font-size="5.1" font-weight="bold" text-anchor="middle" fill="#222">N</text><polygon points="135.5,206.0 132.0,217.5 135.5,213.6" fill="#111"/><polygon points="135.5,206.0 139.0,217.5 135.5,213.6" fill="#fff" stroke="#111" stroke-width="0.5" stroke-linejoin="miter"/></g>
</g>
<!-- panel 5 -->
<g>
<text class="t" x="232.35" y="191.8" text-anchor="middle" filter="url(#bt)">Perdicted groundwater levels for period 37</text>
<rect x="162.9" y="197.5" width="138.9" height="138.7" fill="#fff" stroke="#aeaeae" stroke-width="1"/>
<g transform="translate(157.6,184.8)">
<g filter="url(#bl)"><g clip-path="url(#oc)">
<rect x="0" y="10" width="150" height="145" fill="#fecc7d"/>
<path fill="#fce28a" d="M9.0,80.0C7.3,74.3 15.5,67.7 20.0,62.0C24.5,56.3 29.3,50.5 36.0,46.0C42.7,41.5 54.0,37.0 60.0,35.0C66.0,33.0 69.7,32.8 72.0,34.0C74.3,35.2 74.3,39.0 74.0,42.0C73.7,45.0 70.3,48.0 70.0,52.0C69.7,56.0 70.3,62.7 72.0,66.0C73.7,69.3 77.3,69.7 80.0,72.0C82.7,74.3 85.5,77.0 88.0,80.0C90.5,83.0 93.3,86.7 95.0,90.0C96.7,93.3 97.2,95.8 98.0,100.0C98.8,104.2 100.2,110.0 100.0,115.0C99.8,120.0 99.2,124.8 97.0,130.0C94.8,135.2 91.5,145.2 87.0,146.0C82.5,146.8 76.2,141.3 70.0,135.0C63.8,128.7 56.7,114.5 50.0,108.0C43.3,101.5 36.8,100.7 30.0,96.0C23.2,91.3 10.7,85.7 9.0,80.0Z"/>
<path fill="#fecc7d" d="M10.0,80.0C9.8,78.7 13.7,75.3 16.0,72.0C18.3,68.7 20.5,64.3 24.0,60.0C27.5,55.7 33.0,49.2 37.0,46.0C41.0,42.8 45.8,41.3 48.0,41.0C50.2,40.7 51.0,42.5 50.0,44.0C49.0,45.5 45.0,47.5 42.0,50.0C39.0,52.5 35.0,55.8 32.0,59.0C29.0,62.2 26.5,65.5 24.0,69.0C21.5,72.5 19.3,78.2 17.0,80.0C14.7,81.8 10.2,81.3 10.0,80.0Z"/>
<path fill="#fecc7d" d="M15.8,80.0C15.6,77.6 19.2,67.6 21.5,63.8C23.7,60.0 30.0,54.2 32.8,51.6C35.6,49.1 40.1,45.2 42.5,44.4C44.9,43.5 49.4,43.9 50.6,45.2C51.8,46.5 52.3,51.7 51.4,54.1C50.6,56.5 46.0,60.8 44.1,63.0C42.3,65.1 39.4,68.3 37.7,70.3C35.9,72.2 33.1,76.1 31.2,77.6C29.2,79.1 25.1,81.3 23.1,81.6C21.0,81.9 16.0,82.4 15.8,80.0Z"/>
<path fill="#fae990" d="M23.1,88.1C23.3,86.1 29.6,80.3 32.8,76.8C36.0,73.2 39.0,70.8 42.5,67.0C46.0,63.3 50.6,57.9 53.9,54.1C57.1,50.3 59.7,46.1 62.0,44.4C64.2,42.6 67.1,42.2 67.6,43.5C68.2,44.9 67.2,48.8 65.2,52.5C63.2,56.1 59.0,61.1 55.5,65.4C52.0,69.7 48.2,74.5 44.1,78.4C40.1,82.3 34.7,87.3 31.2,88.9C27.7,90.5 22.8,90.1 23.1,88.1Z"/>
<path fill="#f4ee9c" d="M40.9,73.5C41.4,71.9 44.1,68.4 45.8,67.0C47.4,65.7 49.5,65.1 50.6,65.4C51.7,65.7 52.8,67.2 52.2,68.7C51.7,70.1 49.0,73.0 47.4,74.3C45.8,75.7 43.6,76.9 42.5,76.8C41.4,76.6 40.4,75.1 40.9,73.5Z"/>
<ellipse fill="#f4ee9c" cx="58.7" cy="46.8" rx="2.0" ry="2.0"/>
<ellipse fill="#f4ee9c" cx="27.0" cy="86.0" rx="2.5" ry="2.0"/>
<path fill="#f4ee9c" d="M76.0,88.0C77.2,84.0 80.3,80.7 82.0,80.0C83.7,79.3 85.0,81.7 86.0,84.0C87.0,86.3 86.5,91.3 88.0,94.0C89.5,96.7 93.5,97.3 95.0,100.0C96.5,102.7 96.8,106.0 97.0,110.0C97.2,114.0 97.5,119.0 96.0,124.0C94.5,129.0 91.0,137.7 88.0,140.0C85.0,142.3 81.0,140.0 78.0,138.0C75.0,136.0 70.3,131.3 70.0,128.0C69.7,124.7 75.2,122.0 76.0,118.0C76.8,114.0 75.0,109.0 75.0,104.0C75.0,99.0 74.8,92.0 76.0,88.0Z"/>
<path fill="#fce28a" d="M78.0,100.0C79.3,98.0 85.0,97.0 88.0,98.0C91.0,99.0 94.7,103.0 96.0,106.0C97.3,109.0 97.3,114.7 96.0,116.0C94.7,117.3 90.7,115.0 88.0,114.0C85.3,113.0 81.7,112.3 80.0,110.0C78.3,107.7 76.7,102.0 78.0,100.0Z"/>
<path fill="#e9a876" d="M19.8,71.1C20.2,69.7 23.0,64.4 24.7,62.2C26.4,59.9 30.6,56.1 32.8,54.1C35.0,52.0 39.2,47.8 40.9,46.8C42.6,45.8 45.0,46.1 45.8,46.8C46.5,47.4 47.2,50.1 46.6,51.6C45.9,53.2 42.4,56.3 40.9,58.1C39.4,60.0 36.8,63.6 35.2,65.4C33.6,67.3 30.5,70.9 28.7,71.9C27.0,72.9 23.5,72.8 22.3,72.7C21.1,72.6 19.5,72.5 19.8,71.1Z"/>
<ellipse fill="#d08c7a" cx="28.7" cy="62.7" rx="2.4" ry="2.4"/>
<polygon fill="#e9a876" points="86.6,41.1 92.3,47.6 86.6,62.2 83.4,55.7"/>
<ellipse fill="#e9a876" cx="79.3" cy="54.1" rx="2.1" ry="2.1"/>
<ellipse fill="#f4ee9c" cx="81.7" cy="92.4" rx="4.0" ry="4.0"/>
<ellipse fill="#fecc7d" cx="84.2" cy="105.3" rx="2.4" ry="2.2"/>
<path fill="#e9a876" d="M105.8,87.7C105.8,86.6 106.2,84.3 107.0,83.0C107.8,81.8 110.1,79.3 111.7,78.4C113.2,77.4 117.1,76.1 118.6,76.1C120.2,76.1 122.3,77.2 123.3,78.4C124.4,79.5 125.7,83.2 126.5,84.6C127.3,86.1 128.7,88.1 129.2,89.3C129.6,90.6 130.2,93.0 130.2,94.0C130.1,95.0 129.4,96.0 128.6,96.9C127.9,97.8 126.0,99.8 124.5,100.7C123.0,101.6 118.8,102.9 117.5,103.6C116.2,104.3 115.8,106.7 114.8,105.9C113.7,105.0 111.0,99.1 109.9,97.2C108.9,95.2 107.5,92.6 107.0,91.3C106.4,90.1 105.8,88.8 105.8,87.7Z"/>
<ellipse fill="#dc9a7c" cx="119.0" cy="92.8" rx="9.1" ry="9.1"/>
<ellipse fill="#e9a876" cx="119.0" cy="93.3" rx="8.0" ry="7.8"/>
<ellipse fill="#d08c7a" cx="119.0" cy="92.8" rx="6.8" ry="6.8"/>
<ellipse fill="#f2bbd0" cx="119.0" cy="92.8" rx="2.4" ry="2.4"/>
<path fill="#fecc7d" d="M76.2,65.5C77.3,67.1 78.1,72.8 78.0,75.9C77.9,79.0 77.2,83.1 75.6,86.2C74.0,89.3 70.1,94.1 67.3,96.7C64.5,99.2 60.2,102.1 57.0,103.1C53.8,104.2 48.5,104.5 45.8,103.7C43.1,103.0 39.8,100.1 38.9,98.3C37.9,96.5 38.5,94.1 39.3,91.7C40.2,89.4 42.6,85.3 44.5,82.7C46.4,80.2 49.2,76.9 51.8,74.7C54.5,72.5 59.3,69.4 62.1,67.9C64.9,66.4 68.3,65.1 70.4,64.7C72.5,64.4 75.0,63.8 76.2,65.5Z"/>
<path fill="#e9a876" d="M73.3,68.6C74.2,70.0 74.9,74.7 74.8,77.3C74.7,79.9 74.1,83.3 72.8,85.9C71.5,88.5 68.2,92.5 65.9,94.6C63.6,96.7 60.0,99.1 57.3,100.0C54.6,100.9 50.3,101.1 48.0,100.5C45.7,99.9 43.0,97.5 42.2,96.0C41.4,94.5 41.9,92.5 42.6,90.5C43.3,88.5 45.3,85.1 46.9,83.0C48.5,80.9 50.8,78.2 53.0,76.3C55.2,74.4 59.3,71.8 61.6,70.6C63.9,69.4 66.7,68.3 68.5,68.0C70.3,67.7 72.4,67.2 73.3,68.6Z"/>
<path fill="#d08c7a" d="M70.4,74.2C71.9,75.2 72.7,79.2 72.4,81.6C72.1,84.0 70.1,88.0 68.5,90.2C66.9,92.4 63.9,95.1 61.6,96.3C59.3,97.5 55.3,98.3 53.0,98.4C50.7,98.5 47.6,98.0 46.5,97.0C45.4,96.0 45.1,93.9 45.6,92.0C46.1,90.1 48.1,86.5 49.5,84.5C50.9,82.5 53.0,80.5 55.0,79.0C57.0,77.5 60.3,75.3 62.6,74.6C64.9,73.9 68.9,73.2 70.4,74.2Z"/>
<ellipse fill="#f2bbd0" cx="58.3" cy="86.1" rx="10.7" ry="6.0" transform="rotate(-40 58.3 86.1)"/>
<ellipse fill="#fff6fa" cx="59.4" cy="85.1" rx="5.7" ry="3.1" transform="rotate(-40 59.4 85.1)"/>
<path fill="#a8cb7a" d="M55.2,108.8C55.3,107.2 57.8,104.9 59.3,103.9C60.8,103.0 65.2,101.4 66.6,101.5C68.0,101.6 69.4,103.3 69.8,104.7C70.2,106.2 69.6,110.2 69.8,112.0C70.0,113.9 71.5,117.0 71.4,118.5C71.3,120.0 70.1,122.8 69.0,123.4C67.9,123.9 64.7,123.5 63.3,122.6C61.9,121.6 59.5,117.9 58.5,116.1C57.4,114.2 55.1,110.4 55.2,108.8Z"/>
<path fill="#52a04e" d="M60.1,112.0C60.4,111.0 62.6,107.9 63.3,107.2C64.1,106.4 65.2,105.9 65.8,106.4C66.3,106.8 67.3,109.0 67.4,110.4C67.5,111.8 67.1,115.8 66.6,116.9C66.0,118.0 64.1,118.7 63.3,118.5C62.6,118.3 61.3,116.1 60.9,115.3C60.5,114.4 59.8,113.1 60.1,112.0Z"/>
<ellipse fill="#f4ee9c" cx="87.2" cy="120.4" rx="11.0" ry="10.5"/>
<path fill="#a8cb7a" d="M84.2,111.8C86.0,111.4 89.8,114.1 91.5,115.0C93.2,116.0 95.0,116.8 95.5,118.3C96.0,119.7 95.5,123.3 94.7,124.7C93.8,126.2 91.7,127.6 89.8,128.0C88.0,128.4 84.4,127.9 82.5,127.2C80.7,126.4 78.2,124.6 77.7,123.1C77.2,121.7 78.3,119.2 79.3,117.5C80.3,115.8 82.3,112.2 84.2,111.8Z"/>
</g></g></g>
<g filter="url(#bs)">
<rect x="169.3" y="293.20" width="7" height="3.4" fill="#3f8f3a" stroke="#b8b8b8" stroke-width="0.35"/>
<text class="g" x="178.10000000000002" y="295.85">-42 - -38</text>
<rect x="169.3" y="297.90" width="7" height="3.4" fill="#a0c060" stroke="#b8b8b8" stroke-width="0.35"/>
<text class="g" x="178.10000000000002" y="300.55">-37 - -34</text>
<rect x="169.3" y="302.60" width="7" height="3.4" fill="#f6f07e" stroke="#b8b8b8" stroke-width="0.35"/>
<text class="g" x="178.10000000000002" y="305.25">-33 - -30</text>
<rect x="169.3" y="307.30" width="7" height="3.4" fill="#fde074" stroke="#b8b8b8" stroke-width="0.35"/>
<text class="g" x="178.10000000000002" y="309.95">-29 - -26</text>
<rect x="169.3" y="312.00" width="7" height="3.4" fill="#fdc465" stroke="#b8b8b8" stroke-width="0.35"/>
<text class="g" x="178.10000000000002" y="314.65">-25 - -22</text>
<rect x="169.3" y="316.70" width="7" height="3.4" fill="#f0a264" stroke="#b8b8b8" stroke-width="0.35"/>
<text class="g" x="178.10000000000002" y="319.35">-21 - -17</text>
<rect x="169.3" y="321.40" width="7" height="3.4" fill="#d47868" stroke="#b8b8b8" stroke-width="0.35"/>
<text class="g" x="178.10000000000002" y="324.05">-16 - -13</text>
<rect x="169.3" y="326.10" width="7" height="3.4" fill="#f2a4bc" stroke="#b8b8b8" stroke-width="0.35"/>
<text class="g" x="178.10000000000002" y="328.75">-12 - -9.3</text>
<rect x="169.3" y="330.80" width="7" height="3.4" fill="#ffffff" stroke="#b8b8b8" stroke-width="0.35"/>
<text class="g" x="178.10000000000002" y="333.45">-9.2 - -5.2</text>
</g>
<g filter="url(#bt)"><text x="291.6" y="204.5" font-family="Liberation Sans, sans-serif" font-size="5.1" font-weight="bold" text-anchor="middle" fill="#222">N</text><polygon points="291.6,206.0 288.1,217.5 291.6,213.6" fill="#111"/><polygon points="291.6,206.0 295.1,217.5 291.6,213.6" fill="#fff" stroke="#111" stroke-width="0.5" stroke-linejoin="miter"/></g>
</g>
<!-- panel 6 -->
<g>
<text class="t" x="389.00" y="191.8" text-anchor="middle" filter="url(#bt)">Perdicted groundwater levels for period 40</text>
<rect x="318.9" y="197.5" width="139.0" height="138.7" fill="#fff" stroke="#aeaeae" stroke-width="1"/>
<g transform="translate(314.3,184.7)">
<g filter="url(#bl)"><g clip-path="url(#oc)">
<rect x="0" y="10" width="150" height="145" fill="#fecc7d"/>
<path fill="#fce28a" d="M9.0,80.0C7.3,74.3 15.5,67.7 20.0,62.0C24.5,56.3 29.3,50.5 36.0,46.0C42.7,41.5 54.0,37.0 60.0,35.0C66.0,33.0 69.7,32.8 72.0,34.0C74.3,35.2 74.3,39.0 74.0,42.0C73.7,45.0 70.3,48.0 70.0,52.0C69.7,56.0 70.3,62.7 72.0,66.0C73.7,69.3 77.3,69.7 80.0,72.0C82.7,74.3 85.5,77.0 88.0,80.0C90.5,83.0 93.3,86.7 95.0,90.0C96.7,93.3 97.2,95.8 98.0,100.0C98.8,104.2 100.2,110.0 100.0,115.0C99.8,120.0 99.2,124.8 97.0,130.0C94.8,135.2 91.5,145.2 87.0,146.0C82.5,146.8 76.2,141.3 70.0,135.0C63.8,128.7 56.7,114.5 50.0,108.0C43.3,101.5 36.8,100.7 30.0,96.0C23.2,91.3 10.7,85.7 9.0,80.0Z"/>
<path fill="#fecc7d" d="M10.0,80.0C9.8,78.7 13.7,75.3 16.0,72.0C18.3,68.7 20.5,64.3 24.0,60.0C27.5,55.7 33.0,49.2 37.0,46.0C41.0,42.8 45.8,41.3 48.0,41.0C50.2,40.7 51.0,42.5 50.0,44.0C49.0,45.5 45.0,47.5 42.0,50.0C39.0,52.5 35.0,55.8 32.0,59.0C29.0,62.2 26.5,65.5 24.0,69.0C21.5,72.5 19.3,78.2 17.0,80.0C14.7,81.8 10.2,81.3 10.0,80.0Z"/>
<path fill="#fecc7d" d="M13.0,83.3C12.8,80.5 15.7,68.1 17.9,63.9C20.1,59.7 25.8,54.6 29.2,51.7C32.7,48.9 40.6,43.7 43.8,42.8C47.1,42.0 52.1,43.5 53.5,45.3C54.9,47.0 55.4,53.1 54.3,55.8C53.3,58.5 47.7,63.1 45.4,65.5C43.2,67.9 39.5,71.6 37.3,73.6C35.2,75.7 31.6,79.4 29.2,80.9C26.9,82.4 21.7,84.6 19.5,85.0C17.4,85.3 13.3,86.1 13.0,83.3Z"/>
<path fill="#fae990" d="M22.8,87.4C23.8,85.1 30.3,79.4 34.1,75.2C37.9,71.1 42.2,66.6 45.4,62.3C48.7,58.0 51.1,52.6 53.5,49.3C56.0,46.1 58.1,43.5 60.0,42.8C61.9,42.2 64.9,43.1 64.9,45.3C64.9,47.4 62.4,51.9 60.0,55.8C57.6,59.7 53.8,64.4 50.3,68.8C46.8,73.1 42.7,78.3 39.0,81.7C35.2,85.1 30.3,88.1 27.6,89.0C24.9,89.9 21.7,89.7 22.8,87.4Z"/>
<ellipse fill="#f4ee9c" cx="58.7" cy="46.8" rx="2.0" ry="2.0"/>
<ellipse fill="#f4ee9c" cx="27.0" cy="86.0" rx="2.5" ry="2.0"/>
<path fill="#f4ee9c" d="M76.0,88.0C77.2,84.0 80.3,80.7 82.0,80.0C83.7,79.3 85.0,81.7 86.0,84.0C87.0,86.3 86.5,91.3 88.0,94.0C89.5,96.7 93.5,97.3 95.0,100.0C96.5,102.7 96.8,106.0 97.0,110.0C97.2,114.0 97.5,119.0 96.0,124.0C94.5,129.0 91.0,137.7 88.0,140.0C85.0,142.3 81.0,140.0 78.0,138.0C75.0,136.0 70.3,131.3 70.0,128.0C69.7,124.7 75.2,122.0 76.0,118.0C76.8,114.0 75.0,109.0 75.0,104.0C75.0,99.0 74.8,92.0 76.0,88.0Z"/>
<path fill="#fce28a" d="M78.0,100.0C79.3,98.0 85.0,97.0 88.0,98.0C91.0,99.0 94.7,103.0 96.0,106.0C97.3,109.0 97.3,114.7 96.0,116.0C94.7,117.3 90.7,115.0 88.0,114.0C85.3,113.0 81.7,112.3 80.0,110.0C78.3,107.7 76.7,102.0 78.0,100.0Z"/>
<path fill="#e9a876" d="M16.3,77.7C16.4,75.9 18.7,69.8 20.3,67.1C21.9,64.4 25.9,59.9 28.4,57.4C30.9,54.9 36.6,50.0 39.0,48.5C41.3,47.0 44.8,45.9 46.2,46.1C47.7,46.3 49.3,48.6 49.5,50.1C49.7,51.6 48.9,55.5 47.9,57.4C46.8,59.4 43.2,62.9 41.4,64.7C39.6,66.5 36.1,69.5 34.1,71.2C32.0,72.9 27.9,76.5 26.0,77.7C24.1,78.9 20.8,80.1 19.5,80.1C18.2,80.1 16.2,79.4 16.3,77.7Z"/>
<path fill="#d08c7a" d="M21.1,68.8C21.5,67.4 24.3,62.7 26.0,60.7C27.7,58.6 32.0,54.8 34.1,53.4C36.1,52.0 40.0,50.1 41.4,50.1C42.8,50.1 44.4,52.2 44.6,53.4C44.8,54.6 44.1,57.5 43.0,59.0C41.9,60.5 38.4,63.2 36.5,64.7C34.7,66.2 31.0,69.5 29.2,70.4C27.5,71.2 24.6,71.4 23.6,71.2C22.5,71.0 20.8,70.2 21.1,68.8Z"/>
<ellipse fill="#f2bbd0" cx="28.9" cy="64.4" rx="2.5" ry="2.5"/>
<polygon fill="#e9a876" points="87.9,27.0 102.8,21.8 92.8,47.7 83.8,62.3 82.2,55.8 86.3,39.6"/>
<polygon fill="#e9a876" points="67.7,32.3 76.6,29.9 73.6,40.4 70.9,43.6"/>
<ellipse fill="#e9a876" cx="78.5" cy="54.2" rx="2.0" ry="2.0"/>
<ellipse fill="#fce28a" cx="82.7" cy="73.6" rx="1.8" ry="1.8"/>
<ellipse fill="#fecc7d" cx="83.0" cy="104.6" rx="1.8" ry="1.8"/>
<ellipse fill="#fecc7d" cx="73.5" cy="112.5" rx="1.8" ry="1.8"/>
<path fill="#e9a876" d="M104.1,87.4C104.1,86.1 104.5,83.5 105.3,82.2C106.2,80.8 108.8,78.0 110.5,77.0C112.3,75.9 116.6,74.4 118.3,74.4C120.0,74.4 122.3,75.7 123.5,77.0C124.7,78.2 126.2,82.3 127.0,83.9C127.9,85.5 129.4,87.7 130.0,89.1C130.5,90.5 131.2,93.2 131.1,94.3C131.0,95.4 130.3,96.5 129.4,97.5C128.6,98.5 126.4,100.8 124.8,101.8C123.1,102.8 118.5,104.3 117.0,105.0C115.6,105.8 115.1,108.5 114.0,107.5C112.9,106.6 109.8,100.0 108.6,97.8C107.5,95.7 105.9,92.8 105.3,91.4C104.7,90.0 104.1,88.6 104.1,87.4Z"/>
<ellipse fill="#dc9a7c" cx="118.7" cy="92.9" rx="8.5" ry="8.5"/>
<ellipse fill="#e9a876" cx="118.7" cy="93.4" rx="7.4" ry="7.2"/>
<ellipse fill="#d08c7a" cx="118.7" cy="92.9" rx="6.2" ry="6.2"/>
<ellipse fill="#f2bbd0" cx="118.7" cy="92.9" rx="1.3" ry="1.3"/>
<path fill="#fecc7d" d="M76.2,65.5C77.3,67.1 78.1,72.8 78.0,75.9C77.9,79.0 77.2,83.1 75.6,86.2C74.0,89.3 70.1,94.1 67.3,96.7C64.5,99.2 60.2,102.1 57.0,103.1C53.8,104.2 48.5,104.5 45.8,103.7C43.1,103.0 39.8,100.1 38.9,98.3C37.9,96.5 38.5,94.1 39.3,91.7C40.2,89.4 42.6,85.3 44.5,82.7C46.4,80.2 49.2,76.9 51.8,74.7C54.5,72.5 59.3,69.4 62.1,67.9C64.9,66.4 68.3,65.1 70.4,64.7C72.5,64.4 75.0,63.8 76.2,65.5Z"/>
<path fill="#e9a876" d="M73.3,68.6C74.2,70.0 74.9,74.7 74.8,77.3C74.7,79.9 74.1,83.3 72.8,85.9C71.5,88.5 68.2,92.5 65.9,94.6C63.6,96.7 60.0,99.1 57.3,100.0C54.6,100.9 50.3,101.1 48.0,100.5C45.7,99.9 43.0,97.5 42.2,96.0C41.4,94.5 41.9,92.5 42.6,90.5C43.3,88.5 45.3,85.1 46.9,83.0C48.5,80.9 50.8,78.2 53.0,76.3C55.2,74.4 59.3,71.8 61.6,70.6C63.9,69.4 66.7,68.3 68.5,68.0C70.3,67.7 72.4,67.2 73.3,68.6Z"/>
<path fill="#d08c7a" d="M70.4,74.2C71.9,75.2 72.7,79.2 72.4,81.6C72.1,84.0 70.1,88.0 68.5,90.2C66.9,92.4 63.9,95.1 61.6,96.3C59.3,97.5 55.3,98.3 53.0,98.4C50.7,98.5 47.6,98.0 46.5,97.0C45.4,96.0 45.1,93.9 45.6,92.0C46.1,90.1 48.1,86.5 49.5,84.5C50.9,82.5 53.0,80.5 55.0,79.0C57.0,77.5 60.3,75.3 62.6,74.6C64.9,73.9 68.9,73.2 70.4,74.2Z"/>
<ellipse fill="#f2bbd0" cx="58.3" cy="86.1" rx="10.7" ry="6.0" transform="rotate(-40 58.3 86.1)"/>
<ellipse fill="#fff6fa" cx="59.4" cy="85.1" rx="5.7" ry="3.1" transform="rotate(-40 59.4 85.1)"/>
<path fill="#a8cb7a" d="M54.9,108.9C54.9,107.5 56.9,105.0 58.1,104.0C59.4,103.1 63.2,101.5 64.6,101.6C66.0,101.7 68.1,103.4 68.7,104.8C69.2,106.3 68.9,110.1 68.7,112.1C68.5,114.2 67.8,119.3 67.1,120.2C66.3,121.2 64.2,120.2 63.0,119.4C61.8,118.7 59.2,116.0 58.1,114.6C57.1,113.2 54.9,110.3 54.9,108.9Z"/>
<ellipse fill="#52a04e" cx="61.4" cy="113.8" rx="3.2" ry="4.5" transform="rotate(-10 61.4 113.8)"/>
<ellipse fill="#f4ee9c" cx="86.5" cy="120.0" rx="10.5" ry="10.5"/>
<path fill="#a8cb7a" d="M84.7,111.1C86.2,111.0 90.5,111.7 91.9,112.7C93.4,113.7 94.3,115.7 94.4,117.6C94.5,119.4 93.9,123.2 92.8,124.8C91.7,126.5 88.9,128.5 87.1,128.6C85.3,128.7 81.8,126.9 80.6,125.7C79.4,124.4 78.9,121.8 79.0,120.0C79.1,118.2 80.6,114.8 81.4,113.5C82.3,112.2 83.1,111.2 84.7,111.1Z"/>
</g></g></g>
<g filter="url(#bs)">
<rect x="325.8" y="293.00" width="7" height="3.4" fill="#3f8f3a" stroke="#b8b8b8" stroke-width="0.35"/>
<text class="g" x="334.6" y="295.65">-43 - -39</text>
<rect x="325.8" y="297.70" width="7" height="3.4" fill="#a0c060" stroke="#b8b8b8" stroke-width="0.35"/>
<text class="g" x="334.6" y="300.35">-38 - -34</text>
<rect x="325.8" y="302.40" width="7" height="3.4" fill="#f6f07e" stroke="#b8b8b8" stroke-width="0.35"/>
<text class="g" x="334.6" y="305.05">-33 - -30</text>
<rect x="325.8" y="307.10" width="7" height="3.4" fill="#fde074" stroke="#b8b8b8" stroke-width="0.35"/>
<text class="g" x="334.6" y="309.75">-29 - -26</text>
<rect x="325.8" y="311.80" width="7" height="3.4" fill="#fdc465" stroke="#b8b8b8" stroke-width="0.35"/>
<text class="g" x="334.6" y="314.45">-25 - -22</text>
<rect x="325.8" y="316.50" width="7" height="3.4" fill="#f0a264" stroke="#b8b8b8" stroke-width="0.35"/>
<text class="g" x="334.6" y="319.15">-21 - -17</text>
<rect x="325.8" y="321.20" width="7" height="3.4" fill="#d47868" stroke="#b8b8b8" stroke-width="0.35"/>
<text class="g" x="334.6" y="323.85">-16 - -13</text>
<rect x="325.8" y="325.90" width="7" height="3.4" fill="#f2a4bc" stroke="#b8b8b8" stroke-width="0.35"/>
<text class="g" x="334.6" y="328.55">-12 - -8.8</text>
<rect x="325.8" y="330.60" width="7" height="3.4" fill="#ffffff" stroke="#b8b8b8" stroke-width="0.35"/>
<text class="g" x="334.6" y="333.25">-8.7 - -4.4</text>
</g>
<g filter="url(#bt)"><text x="448.1" y="204.5" font-family="Liberation Sans, sans-serif" font-size="5.1" font-weight="bold" text-anchor="middle" fill="#222">N</text><polygon points="448.1,206.0 444.6,217.5 448.1,213.6" fill="#111"/><polygon points="448.1,206.0 451.6,217.5 448.1,213.6" fill="#fff" stroke="#111" stroke-width="0.5" stroke-linejoin="miter"/></g>
</g>
<!-- panel 7 -->
<g>
<text class="t" x="75.40" y="375.2" text-anchor="middle" filter="url(#bt)">Average groundwater level for the 34th period</text>
<rect x="5.7" y="380.6" width="139.4" height="139.7" fill="#fff" stroke="#aeaeae" stroke-width="1"/>
<g transform="translate(0.6,368.5)">
<g filter="url(#bl)"><g clip-path="url(#oc)">
<rect x="0" y="10" width="150" height="145" fill="#fecc7d"/>
<path fill="#fce28a" d="M9.0,80.0C7.3,74.3 15.5,67.7 20.0,62.0C24.5,56.3 29.3,50.5 36.0,46.0C42.7,41.5 54.0,37.0 60.0,35.0C66.0,33.0 69.7,32.8 72.0,34.0C74.3,35.2 74.3,39.0 74.0,42.0C73.7,45.0 70.3,48.7 70.0,52.0C69.7,55.3 71.0,59.0 72.0,62.0C73.0,65.0 75.0,67.0 76.0,70.0C77.0,73.0 77.2,76.8 78.0,80.0C78.8,83.2 78.7,86.5 81.0,89.0C83.3,91.5 88.8,92.8 92.0,95.0C95.2,97.2 98.2,99.5 100.0,102.0C101.8,104.5 102.0,107.5 103.0,110.0C104.0,112.5 106.5,113.7 106.0,117.0C105.5,120.3 103.2,125.2 100.0,130.0C96.8,134.8 92.0,145.2 87.0,146.0C82.0,146.8 76.2,141.3 70.0,135.0C63.8,128.7 56.7,114.5 50.0,108.0C43.3,101.5 36.8,100.7 30.0,96.0C23.2,91.3 10.7,85.7 9.0,80.0Z"/>
<path fill="#fecc7d" d="M10.0,80.0C9.8,78.7 13.7,75.3 16.0,72.0C18.3,68.7 20.5,64.3 24.0,60.0C27.5,55.7 33.0,49.2 37.0,46.0C41.0,42.8 45.8,41.3 48.0,41.0C50.2,40.7 51.0,42.5 50.0,44.0C49.0,45.5 45.0,47.5 42.0,50.0C39.0,52.5 35.0,55.8 32.0,59.0C29.0,62.2 26.5,65.5 24.0,69.0C21.5,72.5 19.3,78.2 17.0,80.0C14.7,81.8 10.2,81.3 10.0,80.0Z"/>
<path fill="#f4ee9c" d="M31.8,79.3C31.8,76.1 34.2,69.0 36.7,64.7C39.1,60.4 42.9,56.6 46.4,53.4C49.9,50.1 54.2,47.2 57.7,45.3C61.2,43.4 65.3,41.8 67.4,42.0C69.6,42.3 71.2,44.2 70.7,46.9C70.1,49.6 66.9,54.5 64.2,58.2C61.5,62.0 57.7,66.1 54.5,69.6C51.2,73.1 47.7,76.9 44.8,79.3C41.8,81.7 38.8,84.2 36.7,84.2C34.5,84.2 31.8,82.5 31.8,79.3Z"/>
<ellipse fill="#f4ee9c" cx="27.0" cy="86.0" rx="2.5" ry="2.0"/>
<path fill="#f4ee9c" d="M74.0,100.0C74.8,97.8 77.7,95.7 80.0,95.0C82.3,94.3 85.5,95.2 88.0,96.0C90.5,96.8 93.2,97.7 95.0,100.0C96.8,102.3 98.7,106.0 99.0,110.0C99.3,114.0 98.8,119.0 97.0,124.0C95.2,129.0 91.2,137.7 88.0,140.0C84.8,142.3 81.0,140.0 78.0,138.0C75.0,136.0 70.3,131.3 70.0,128.0C69.7,124.7 75.2,121.3 76.0,118.0C76.8,114.7 75.3,111.0 75.0,108.0C74.7,105.0 73.2,102.2 74.0,100.0Z"/>
<path fill="#fce28a" d="M78.0,107.0C79.2,105.6 83.0,105.2 86.0,104.5C89.0,103.8 93.3,102.8 96.0,103.0C98.7,103.2 100.8,104.2 102.0,106.0C103.2,107.8 104.0,112.5 103.0,114.0C102.0,115.5 98.8,114.9 96.0,115.0C93.2,115.1 88.8,114.8 86.0,114.5C83.2,114.2 80.3,114.2 79.0,113.0C77.7,111.8 76.8,108.4 78.0,107.0Z"/>
<ellipse fill="#a8cb7a" cx="44.6" cy="66.9" rx="3.4" ry="6.4" transform="rotate(25 44.6 66.9)"/>
<path fill="#e9a876" d="M87.2,40.4C87.8,39.2 88.6,35.8 89.6,35.6C90.7,35.3 94.8,37.3 95.3,38.8C95.9,40.3 94.5,44.7 93.7,46.9C92.9,49.1 90.4,52.8 89.6,55.0C88.9,57.2 88.6,61.6 88.0,63.1C87.5,64.6 86.2,66.6 85.6,66.3C85.0,66.1 83.8,62.6 83.2,61.5C82.5,60.4 81.6,58.6 80.7,58.2C79.9,57.9 77.4,59.6 76.7,59.0C75.9,58.5 74.9,55.5 75.1,54.2C75.3,52.9 77.1,50.1 78.3,49.3C79.5,48.6 83.0,49.2 84.0,48.5C85.0,47.9 85.2,45.5 85.6,44.5C86.0,43.4 86.7,41.6 87.2,40.4Z"/>
<path fill="#e9a876" d="M106.0,100.0C107.3,99.2 114.8,104.0 118.0,104.0C121.2,104.0 129.2,99.7 130.0,100.0C130.8,100.3 125.9,104.4 124.0,106.0C122.1,107.6 117.6,110.8 116.0,112.0C114.4,113.2 113.1,115.3 112.0,115.0C110.9,114.7 108.8,112.0 108.0,110.0C107.2,108.0 104.7,100.8 106.0,100.0Z"/>
<path fill="#e9a876" d="M99.2,85.7C99.2,84.0 99.7,80.5 100.9,78.6C102.1,76.7 105.7,72.8 108.1,71.4C110.5,70.0 116.4,67.9 118.8,67.9C121.1,67.9 124.3,69.7 125.9,71.4C127.5,73.2 129.6,78.8 130.7,81.0C131.9,83.2 134.1,86.2 134.8,88.1C135.6,90.0 136.5,93.8 136.3,95.3C136.2,96.8 135.2,98.3 134.0,99.7C132.9,101.1 129.9,104.1 127.7,105.5C125.4,106.9 119.0,109.0 117.0,110.0C115.0,111.1 114.4,114.8 112.8,113.4C111.3,112.1 107.0,103.1 105.4,100.1C103.9,97.2 101.8,93.1 100.9,91.2C100.1,89.3 99.2,87.4 99.2,85.7Z"/>
<ellipse fill="#dc9a7c" cx="118.7" cy="92.6" rx="14.2" ry="14.2"/>
<ellipse fill="#e9a876" cx="119.3" cy="93.5" rx="11.2" ry="11.0"/>
<ellipse fill="#d08c7a" cx="119.3" cy="93.0" rx="10.0" ry="10.0"/>
<ellipse fill="#f2bbd0" cx="119.3" cy="93.0" rx="5.7" ry="5.7"/>
<ellipse fill="#fff6fa" cx="119.3" cy="93.0" rx="2.1" ry="2.1"/>
<path fill="#fecc7d" d="M77.5,62.0C78.5,63.1 78.5,68.5 78.5,71.0C78.5,73.4 77.9,75.8 77.5,78.2C77.0,80.5 76.9,83.6 75.3,86.4C73.7,89.3 69.8,94.3 67.0,96.9C64.2,99.4 59.9,102.3 56.7,103.4C53.5,104.4 48.2,104.7 45.5,104.0C42.8,103.2 39.5,100.4 38.6,98.6C37.6,96.8 38.2,94.3 39.1,92.0C39.9,89.6 42.3,85.5 44.2,83.0C46.1,80.4 48.9,77.2 51.5,74.9C54.2,72.7 58.9,69.8 61.9,68.1C64.8,66.3 69.0,64.1 71.3,63.2C73.7,62.2 76.4,60.8 77.5,62.0Z"/>
<path fill="#e9a876" d="M74.6,65.5C75.5,66.5 75.5,71.0 75.5,73.0C75.5,75.0 75.0,77.1 74.6,79.0C74.2,80.9 74.1,83.6 72.8,85.9C71.5,88.2 68.2,92.5 65.9,94.6C63.6,96.7 60.0,99.1 57.3,100.0C54.6,100.9 50.3,101.1 48.0,100.5C45.7,99.9 43.0,97.5 42.2,96.0C41.4,94.5 41.9,92.5 42.6,90.5C43.3,88.5 45.3,85.1 46.9,83.0C48.5,80.9 50.8,78.2 53.0,76.3C55.2,74.4 59.1,72.1 61.6,70.6C64.1,69.1 67.5,67.3 69.5,66.5C71.5,65.7 73.7,64.5 74.6,65.5Z"/>
<path fill="#d08c7a" d="M70.4,74.2C71.9,75.2 72.7,79.2 72.4,81.6C72.1,84.0 70.1,88.0 68.5,90.2C66.9,92.4 63.9,95.1 61.6,96.3C59.3,97.5 55.3,98.3 53.0,98.4C50.7,98.5 47.6,98.0 46.5,97.0C45.4,96.0 45.1,93.9 45.6,92.0C46.1,90.1 48.1,86.5 49.5,84.5C50.9,82.5 53.0,80.5 55.0,79.0C57.0,77.5 60.3,75.3 62.6,74.6C64.9,73.9 68.9,73.2 70.4,74.2Z"/>
<ellipse fill="#f2bbd0" cx="58.3" cy="86.1" rx="12.3" ry="6.6" transform="rotate(-40 58.3 86.1)"/>
<ellipse fill="#fff6fa" cx="57.8" cy="86.1" rx="8.0" ry="3.1" transform="rotate(-40 57.8 86.1)"/>
<path fill="#a8cb7a" d="M54.0,109.5C54.2,108.1 56.8,105.8 58.5,104.7C60.2,103.6 64.6,101.9 66.5,101.5C68.4,101.1 71.5,101.1 72.5,102.0C73.5,102.9 73.8,106.8 74.0,108.5C74.2,110.2 73.7,113.6 74.0,115.0C74.3,116.4 75.2,118.6 76.5,119.3C77.8,120.0 82.6,119.9 83.5,120.5C84.4,121.1 84.4,123.3 83.5,124.0C82.6,124.7 78.6,125.5 76.5,125.5C74.4,125.5 70.0,124.7 68.0,124.0C66.0,123.3 63.0,121.2 61.5,120.0C60.0,118.8 57.8,116.4 56.8,115.0C55.8,113.6 53.8,110.9 54.0,109.5Z"/>
<path fill="#52a04e" d="M59.6,112.5C59.8,111.1 61.7,108.1 62.8,107.0C63.9,105.9 66.4,104.5 67.5,104.5C68.6,104.5 70.4,105.8 70.8,107.0C71.2,108.2 71.0,111.8 70.8,113.5C70.6,115.2 69.9,119.0 69.2,120.0C68.5,121.0 66.3,121.1 65.2,120.8C64.1,120.5 61.9,118.6 61.2,117.5C60.5,116.4 59.4,113.9 59.6,112.5Z"/>
</g></g></g>
<g filter="url(#bs)">
<rect x="12.4" y="476.40" width="7" height="3.4" fill="#3f8f3a" stroke="#b8b8b8" stroke-width="0.35"/>
<text class="g" x="21.200000000000003" y="479.05">-39 - -36</text>
<rect x="12.4" y="481.17" width="7" height="3.4" fill="#a0c060" stroke="#b8b8b8" stroke-width="0.35"/>
<text class="g" x="21.200000000000003" y="483.82">-35 - -32</text>
<rect x="12.4" y="485.94" width="7" height="3.4" fill="#f6f07e" stroke="#b8b8b8" stroke-width="0.35"/>
<text class="g" x="21.200000000000003" y="488.59">-31 - -28</text>
<rect x="12.4" y="490.71" width="7" height="3.4" fill="#fde074" stroke="#b8b8b8" stroke-width="0.35"/>
<text class="g" x="21.200000000000003" y="493.36">-27 - -25</text>
<rect x="12.4" y="495.48" width="7" height="3.4" fill="#fdc465" stroke="#b8b8b8" stroke-width="0.35"/>
<text class="g" x="21.200000000000003" y="498.13">-24 - -21</text>
<rect x="12.4" y="500.25" width="7" height="3.4" fill="#f0a264" stroke="#b8b8b8" stroke-width="0.35"/>
<text class="g" x="21.200000000000003" y="502.90">-20 - -18</text>
<rect x="12.4" y="505.02" width="7" height="3.4" fill="#d47868" stroke="#b8b8b8" stroke-width="0.35"/>
<text class="g" x="21.200000000000003" y="507.67">-17 - -14</text>
<rect x="12.4" y="509.79" width="7" height="3.4" fill="#f2a4bc" stroke="#b8b8b8" stroke-width="0.35"/>
<text class="g" x="21.200000000000003" y="512.44">-13 - -11</text>
<rect x="12.4" y="514.56" width="7" height="3.4" fill="#ffffff" stroke="#b8b8b8" stroke-width="0.35"/>
<text class="g" x="21.200000000000003" y="517.21">-10 - -7</text>
</g>
<g filter="url(#bt)"><text x="135.2" y="388.0" font-family="Liberation Sans, sans-serif" font-size="5.1" font-weight="bold" text-anchor="middle" fill="#222">N</text><polygon points="135.2,389.5 131.7,401.0 135.2,397.1" fill="#111"/><polygon points="135.2,389.5 138.7,401.0 135.2,397.1" fill="#fff" stroke="#111" stroke-width="0.5" stroke-linejoin="miter"/></g>
</g>
<!-- panel 8 -->
<g>
<text class="t" x="232.10" y="375.2" text-anchor="middle" filter="url(#bt)">Average groundwater level for the 37th period</text>
<rect x="162.9" y="380.6" width="138.4" height="139.7" fill="#fff" stroke="#aeaeae" stroke-width="1"/>
<g transform="translate(157.3,368.5)">
<g filter="url(#bl)"><g clip-path="url(#oc)">
<rect x="0" y="10" width="150" height="145" fill="#fecc7d"/>
<path fill="#fce28a" d="M9.0,80.0C7.3,74.3 15.5,67.7 20.0,62.0C24.5,56.3 29.3,50.5 36.0,46.0C42.7,41.5 54.0,37.0 60.0,35.0C66.0,33.0 69.7,32.8 72.0,34.0C74.3,35.2 74.3,39.0 74.0,42.0C73.7,45.0 70.3,48.0 70.0,52.0C69.7,56.0 70.3,62.7 72.0,66.0C73.7,69.3 77.0,69.7 80.0,72.0C83.0,74.3 86.7,77.0 90.0,80.0C93.3,83.0 97.8,86.7 100.0,90.0C102.2,93.3 102.0,95.8 103.0,100.0C104.0,104.2 106.5,110.0 106.0,115.0C105.5,120.0 103.2,124.8 100.0,130.0C96.8,135.2 92.0,145.2 87.0,146.0C82.0,146.8 76.2,141.3 70.0,135.0C63.8,128.7 56.7,114.5 50.0,108.0C43.3,101.5 36.8,100.7 30.0,96.0C23.2,91.3 10.7,85.7 9.0,80.0Z"/>
<path fill="#fecc7d" d="M10.0,80.0C9.8,78.7 13.7,75.3 16.0,72.0C18.3,68.7 20.5,64.3 24.0,60.0C27.5,55.7 33.0,49.2 37.0,46.0C41.0,42.8 45.8,41.3 48.0,41.0C50.2,40.7 51.0,42.5 50.0,44.0C49.0,45.5 45.0,47.5 42.0,50.0C39.0,52.5 35.0,55.8 32.0,59.0C29.0,62.2 26.5,65.5 24.0,69.0C21.5,72.5 19.3,78.2 17.0,80.0C14.7,81.8 10.2,81.3 10.0,80.0Z"/>
<path fill="#f4ee9c" d="M33.1,79.3C33.1,76.1 35.5,69.0 38.0,64.7C40.4,60.4 44.2,56.6 47.7,53.4C51.2,50.1 55.5,47.2 59.0,45.3C62.5,43.4 66.6,41.8 68.7,42.0C70.9,42.3 72.5,44.2 72.0,46.9C71.4,49.6 68.2,54.5 65.5,58.2C62.8,62.0 59.0,66.1 55.8,69.6C52.5,73.1 49.0,76.9 46.1,79.3C43.1,81.7 40.1,84.2 38.0,84.2C35.8,84.2 33.1,82.5 33.1,79.3Z"/>
<ellipse fill="#f4ee9c" cx="27.0" cy="86.0" rx="2.5" ry="2.0"/>
<path fill="#f4ee9c" d="M74.0,100.0C74.8,97.8 77.7,95.7 80.0,95.0C82.3,94.3 85.5,95.2 88.0,96.0C90.5,96.8 93.2,97.7 95.0,100.0C96.8,102.3 98.7,106.0 99.0,110.0C99.3,114.0 98.8,119.0 97.0,124.0C95.2,129.0 91.2,137.7 88.0,140.0C84.8,142.3 81.0,140.0 78.0,138.0C75.0,136.0 70.3,131.3 70.0,128.0C69.7,124.7 75.2,121.3 76.0,118.0C76.8,114.7 75.3,111.0 75.0,108.0C74.7,105.0 73.2,102.2 74.0,100.0Z"/>
<path fill="#fce28a" d="M78.0,107.0C79.2,105.6 83.0,105.2 86.0,104.5C89.0,103.8 93.3,102.8 96.0,103.0C98.7,103.2 100.8,104.2 102.0,106.0C103.2,107.8 104.0,112.5 103.0,114.0C102.0,115.5 98.8,114.9 96.0,115.0C93.2,115.1 88.8,114.8 86.0,114.5C83.2,114.2 80.3,114.2 79.0,113.0C77.7,111.8 76.8,108.4 78.0,107.0Z"/>
<ellipse fill="#a8cb7a" cx="45.6" cy="67.1" rx="4.0" ry="6.8" transform="rotate(30 45.6 67.1)"/>
<path fill="#fce28a" d="M77.2,32.3C79.3,30.6 85.1,27.7 86.9,28.3C88.7,28.8 88.8,33.5 87.7,35.6C86.6,37.6 82.7,39.9 80.4,40.4C78.1,41.0 74.5,40.1 73.9,38.8C73.4,37.4 75.0,34.1 77.2,32.3Z"/>
<ellipse fill="#e9a876" cx="85.8" cy="53.4" rx="2.0" ry="6.0" transform="rotate(5 85.8 53.4)"/>
<ellipse fill="#e9a876" cx="78.8" cy="54.2" rx="2.0" ry="2.0"/>
<ellipse fill="#fecc7d" cx="86.0" cy="106.5" rx="3.0" ry="1.7" transform="rotate(-10 86.0 106.5)"/>
<path fill="#e9a876" d="M106.0,100.0C107.3,99.2 114.8,104.0 118.0,104.0C121.2,104.0 129.2,99.7 130.0,100.0C130.8,100.3 125.9,104.4 124.0,106.0C122.1,107.6 117.6,110.8 116.0,112.0C114.4,113.2 113.1,115.3 112.0,115.0C110.9,114.7 108.8,112.0 108.0,110.0C107.2,108.0 104.7,100.8 106.0,100.0Z"/>
<path fill="#e9a876" d="M99.6,86.0C99.6,84.4 100.1,81.0 101.3,79.2C102.4,77.4 105.8,73.7 108.1,72.4C110.4,71.0 116.0,69.0 118.3,69.0C120.5,69.0 123.6,70.7 125.1,72.4C126.6,74.0 128.6,79.4 129.7,81.5C130.9,83.6 132.9,86.5 133.6,88.3C134.3,90.1 135.2,93.7 135.1,95.1C135.0,96.6 134.0,98.0 132.9,99.3C131.8,100.6 128.9,103.6 126.8,104.9C124.6,106.2 118.5,108.2 116.6,109.2C114.7,110.2 114.1,113.7 112.6,112.5C111.1,111.2 107.1,102.6 105.6,99.8C104.1,96.9 102.1,93.1 101.3,91.3C100.5,89.4 99.6,87.6 99.6,86.0Z"/>
<ellipse fill="#dc9a7c" cx="118.3" cy="92.7" rx="13.4" ry="13.4"/>
<ellipse fill="#e9a876" cx="118.8" cy="93.5" rx="10.6" ry="10.4"/>
<ellipse fill="#d08c7a" cx="118.8" cy="93.0" rx="9.4" ry="9.4"/>
<ellipse fill="#f2bbd0" cx="118.8" cy="93.0" rx="5.2" ry="5.2"/>
<ellipse fill="#fff6fa" cx="118.8" cy="93.0" rx="2.0" ry="2.0"/>
<path fill="#fecc7d" d="M77.5,62.0C78.5,63.1 78.5,68.5 78.5,71.0C78.5,73.4 77.9,75.8 77.5,78.2C77.0,80.5 76.9,83.6 75.3,86.4C73.7,89.3 69.8,94.3 67.0,96.9C64.2,99.4 59.9,102.3 56.7,103.4C53.5,104.4 48.2,104.7 45.5,104.0C42.8,103.2 39.5,100.4 38.6,98.6C37.6,96.8 38.2,94.3 39.1,92.0C39.9,89.6 42.3,85.5 44.2,83.0C46.1,80.4 48.9,77.2 51.5,74.9C54.2,72.7 58.9,69.8 61.9,68.1C64.8,66.3 69.0,64.1 71.3,63.2C73.7,62.2 76.4,60.8 77.5,62.0Z"/>
<path fill="#e9a876" d="M74.6,65.5C75.5,66.5 75.5,71.0 75.5,73.0C75.5,75.0 75.0,77.1 74.6,79.0C74.2,80.9 74.1,83.6 72.8,85.9C71.5,88.2 68.2,92.5 65.9,94.6C63.6,96.7 60.0,99.1 57.3,100.0C54.6,100.9 50.3,101.1 48.0,100.5C45.7,99.9 43.0,97.5 42.2,96.0C41.4,94.5 41.9,92.5 42.6,90.5C43.3,88.5 45.3,85.1 46.9,83.0C48.5,80.9 50.8,78.2 53.0,76.3C55.2,74.4 59.1,72.1 61.6,70.6C64.1,69.1 67.5,67.3 69.5,66.5C71.5,65.7 73.7,64.5 74.6,65.5Z"/>
<path fill="#d08c7a" d="M70.4,74.2C71.9,75.2 72.7,79.2 72.4,81.6C72.1,84.0 70.1,88.0 68.5,90.2C66.9,92.4 63.9,95.1 61.6,96.3C59.3,97.5 55.3,98.3 53.0,98.4C50.7,98.5 47.6,98.0 46.5,97.0C45.4,96.0 45.1,93.9 45.6,92.0C46.1,90.1 48.1,86.5 49.5,84.5C50.9,82.5 53.0,80.5 55.0,79.0C57.0,77.5 60.3,75.3 62.6,74.6C64.9,73.9 68.9,73.2 70.4,74.2Z"/>
<ellipse fill="#f2bbd0" cx="58.3" cy="86.1" rx="12.3" ry="6.6" transform="rotate(-40 58.3 86.1)"/>
<ellipse fill="#fff6fa" cx="58.0" cy="86.0" rx="7.5" ry="3.0" transform="rotate(-40 58.0 86.0)"/>
<path fill="#a8cb7a" d="M54.0,109.5C54.2,108.1 56.8,105.8 58.5,104.7C60.2,103.6 64.6,101.9 66.5,101.5C68.4,101.1 71.5,101.1 72.5,102.0C73.5,102.9 73.8,106.8 74.0,108.5C74.2,110.2 73.7,113.6 74.0,115.0C74.3,116.4 75.2,118.6 76.5,119.3C77.8,120.0 82.6,119.9 83.5,120.5C84.4,121.1 84.4,123.3 83.5,124.0C82.6,124.7 78.6,125.5 76.5,125.5C74.4,125.5 70.0,124.7 68.0,124.0C66.0,123.3 63.0,121.2 61.5,120.0C60.0,118.8 57.8,116.4 56.8,115.0C55.8,113.6 53.8,110.9 54.0,109.5Z"/>
<path fill="#52a04e" d="M59.6,112.5C59.8,111.1 61.7,108.1 62.8,107.0C63.9,105.9 66.4,104.5 67.5,104.5C68.6,104.5 70.4,105.8 70.8,107.0C71.2,108.2 71.0,111.8 70.8,113.5C70.6,115.2 69.9,119.0 69.2,120.0C68.5,121.0 66.3,121.1 65.2,120.8C64.1,120.5 61.9,118.6 61.2,117.5C60.5,116.4 59.4,113.9 59.6,112.5Z"/>
</g></g></g>
<g filter="url(#bs)">
<rect x="169.0" y="476.50" width="7" height="3.4" fill="#3f8f3a" stroke="#b8b8b8" stroke-width="0.35"/>
<text class="g" x="177.8" y="479.15">-39 - -36</text>
<rect x="169.0" y="481.27" width="7" height="3.4" fill="#a0c060" stroke="#b8b8b8" stroke-width="0.35"/>
<text class="g" x="177.8" y="483.92">-35 - -32</text>
<rect x="169.0" y="486.04" width="7" height="3.4" fill="#f6f07e" stroke="#b8b8b8" stroke-width="0.35"/>
<text class="g" x="177.8" y="488.69">-31 - -28</text>
<rect x="169.0" y="490.81" width="7" height="3.4" fill="#fde074" stroke="#b8b8b8" stroke-width="0.35"/>
<text class="g" x="177.8" y="493.46">-27 - -25</text>
<rect x="169.0" y="495.58" width="7" height="3.4" fill="#fdc465" stroke="#b8b8b8" stroke-width="0.35"/>
<text class="g" x="177.8" y="498.23">-24 - -21</text>
<rect x="169.0" y="500.35" width="7" height="3.4" fill="#f0a264" stroke="#b8b8b8" stroke-width="0.35"/>
<text class="g" x="177.8" y="503.00">-20 - -18</text>
<rect x="169.0" y="505.12" width="7" height="3.4" fill="#d47868" stroke="#b8b8b8" stroke-width="0.35"/>
<text class="g" x="177.8" y="507.77">-17 - -14</text>
<rect x="169.0" y="509.89" width="7" height="3.4" fill="#f2a4bc" stroke="#b8b8b8" stroke-width="0.35"/>
<text class="g" x="177.8" y="512.54">-13 - -11</text>
<rect x="169.0" y="514.66" width="7" height="3.4" fill="#ffffff" stroke="#b8b8b8" stroke-width="0.35"/>
<text class="g" x="177.8" y="517.31">-10 - -7.2</text>
</g>
<g filter="url(#bt)"><text x="291.6" y="388.0" font-family="Liberation Sans, sans-serif" font-size="5.1" font-weight="bold" text-anchor="middle" fill="#222">N</text><polygon points="291.6,389.5 288.1,401.0 291.6,397.1" fill="#111"/><polygon points="291.6,389.5 295.1,401.0 291.6,397.1" fill="#fff" stroke="#111" stroke-width="0.5" stroke-linejoin="miter"/></g>
</g>
<!-- panel 9 -->
<g>
<text class="t" x="388.85" y="375.2" text-anchor="middle" filter="url(#bt)">Average groundwater level for the 40th period</text>
<rect x="319.4" y="380.6" width="138.9" height="139.7" fill="#fff" stroke="#aeaeae" stroke-width="1"/>
<g transform="translate(314.3,368.4)">
<g filter="url(#bl)"><g clip-path="url(#oc)">
<rect x="0" y="10" width="150" height="145" fill="#fecc7d"/>
<path fill="#fce28a" d="M9.0,80.0C7.3,74.3 15.5,67.7 20.0,62.0C24.5,56.3 29.3,50.5 36.0,46.0C42.7,41.5 54.0,37.0 60.0,35.0C66.0,33.0 69.7,32.8 72.0,34.0C74.3,35.2 74.3,39.0 74.0,42.0C73.7,45.0 70.3,48.0 70.0,52.0C69.7,56.0 70.3,62.7 72.0,66.0C73.7,69.3 77.0,69.7 80.0,72.0C83.0,74.3 86.7,77.0 90.0,80.0C93.3,83.0 97.8,86.7 100.0,90.0C102.2,93.3 102.0,95.8 103.0,100.0C104.0,104.2 106.5,110.0 106.0,115.0C105.5,120.0 103.2,124.8 100.0,130.0C96.8,135.2 92.0,145.2 87.0,146.0C82.0,146.8 76.2,141.3 70.0,135.0C63.8,128.7 56.7,114.5 50.0,108.0C43.3,101.5 36.8,100.7 30.0,96.0C23.2,91.3 10.7,85.7 9.0,80.0Z"/>
<path fill="#fecc7d" d="M10.0,80.0C9.8,78.7 13.7,75.3 16.0,72.0C18.3,68.7 20.5,64.3 24.0,60.0C27.5,55.7 33.0,49.2 37.0,46.0C41.0,42.8 45.8,41.3 48.0,41.0C50.2,40.7 51.0,42.5 50.0,44.0C49.0,45.5 45.0,47.5 42.0,50.0C39.0,52.5 35.0,55.8 32.0,59.0C29.0,62.2 26.5,65.5 24.0,69.0C21.5,72.5 19.3,78.2 17.0,80.0C14.7,81.8 10.2,81.3 10.0,80.0Z"/>
<path fill="#f4ee9c" d="M34.1,79.4C34.1,76.2 36.5,69.1 39.0,64.8C41.4,60.5 45.2,56.7 48.7,53.5C52.2,50.2 56.5,47.3 60.0,45.4C63.5,43.5 67.6,41.9 69.7,42.1C71.9,42.4 73.5,44.3 73.0,47.0C72.4,49.7 69.2,54.6 66.5,58.3C63.8,62.1 60.0,66.2 56.8,69.7C53.5,73.2 50.0,77.0 47.1,79.4C44.1,81.8 41.1,84.3 39.0,84.3C36.8,84.3 34.1,82.6 34.1,79.4Z"/>
<ellipse fill="#f4ee9c" cx="27.0" cy="86.0" rx="2.5" ry="2.0"/>
<path fill="#f4ee9c" d="M74.0,100.0C74.8,97.8 77.7,95.7 80.0,95.0C82.3,94.3 85.5,95.2 88.0,96.0C90.5,96.8 93.2,97.7 95.0,100.0C96.8,102.3 98.7,106.0 99.0,110.0C99.3,114.0 98.8,119.0 97.0,124.0C95.2,129.0 91.2,137.7 88.0,140.0C84.8,142.3 81.0,140.0 78.0,138.0C75.0,136.0 70.3,131.3 70.0,128.0C69.7,124.7 75.2,121.3 76.0,118.0C76.8,114.7 75.3,111.0 75.0,108.0C74.7,105.0 73.2,102.2 74.0,100.0Z"/>
<path fill="#fce28a" d="M78.0,102.0C79.0,100.2 83.2,98.7 86.0,99.0C88.8,99.3 93.3,101.5 95.0,104.0C96.7,106.5 97.2,112.3 96.0,114.0C94.8,115.7 90.7,114.7 88.0,114.0C85.3,113.3 81.7,112.0 80.0,110.0C78.3,108.0 77.0,103.8 78.0,102.0Z"/>
<ellipse fill="#a8cb7a" cx="45.8" cy="66.8" rx="4.9" ry="7.3" transform="rotate(35 45.8 66.8)"/>
<ellipse fill="#52a04e" cx="47.9" cy="66.8" rx="2.7" ry="2.7"/>
<path fill="#fce28a" d="M78.2,32.4C80.3,30.7 86.1,27.8 87.9,28.4C89.7,28.9 89.8,33.6 88.7,35.7C87.6,37.7 83.7,40.0 81.4,40.5C79.1,41.1 75.5,40.2 74.9,38.9C74.4,37.5 76.0,34.2 78.2,32.4Z"/>
<ellipse fill="#fecc7d" cx="85.7" cy="106.6" rx="4.9" ry="3.2" transform="rotate(-8 85.7 106.6)"/>
<path fill="#e9a876" d="M106.0,100.0C107.3,99.2 114.8,104.0 118.0,104.0C121.2,104.0 129.2,99.7 130.0,100.0C130.8,100.3 125.9,104.4 124.0,106.0C122.1,107.6 117.6,110.8 116.0,112.0C114.4,113.2 113.1,115.3 112.0,115.0C110.9,114.7 108.8,112.0 108.0,110.0C107.2,108.0 104.7,100.8 106.0,100.0Z"/>
<path fill="#e9a876" d="M100.1,86.0C100.1,84.5 100.6,81.2 101.7,79.5C102.8,77.8 106.0,74.3 108.2,73.0C110.4,71.7 115.7,69.8 117.9,69.8C120.1,69.8 122.9,71.4 124.4,73.0C125.9,74.6 127.7,79.7 128.8,81.7C129.9,83.7 131.8,86.5 132.5,88.2C133.2,89.9 134.0,93.3 133.9,94.7C133.8,96.1 132.9,97.5 131.8,98.7C130.7,99.9 128.1,102.7 126.0,104.0C123.9,105.3 118.1,107.1 116.3,108.1C114.5,109.1 113.9,112.4 112.5,111.2C111.1,110.0 107.2,101.8 105.8,99.1C104.4,96.4 102.5,92.7 101.7,91.0C100.9,89.3 100.1,87.5 100.1,86.0Z"/>
<ellipse fill="#dc9a7c" cx="118.0" cy="92.4" rx="12.7" ry="12.7"/>
<ellipse fill="#e9a876" cx="118.4" cy="93.2" rx="10.1" ry="9.9"/>
<ellipse fill="#d08c7a" cx="118.4" cy="92.7" rx="8.9" ry="8.9"/>
<ellipse fill="#f2bbd0" cx="118.4" cy="92.7" rx="4.9" ry="4.9"/>
<ellipse fill="#fff6fa" cx="118.4" cy="92.7" rx="2.0" ry="2.0"/>
<path fill="#fecc7d" d="M77.5,62.0C78.5,63.1 78.5,68.5 78.5,71.0C78.5,73.4 77.9,75.8 77.5,78.2C77.0,80.5 76.9,83.6 75.3,86.4C73.7,89.3 69.8,94.3 67.0,96.9C64.2,99.4 59.9,102.3 56.7,103.4C53.5,104.4 48.2,104.7 45.5,104.0C42.8,103.2 39.5,100.4 38.6,98.6C37.6,96.8 38.2,94.3 39.1,92.0C39.9,89.6 42.3,85.5 44.2,83.0C46.1,80.4 48.9,77.2 51.5,74.9C54.2,72.7 58.9,69.8 61.9,68.1C64.8,66.3 69.0,64.1 71.3,63.2C73.7,62.2 76.4,60.8 77.5,62.0Z"/>
<path fill="#e9a876" d="M74.6,65.5C75.5,66.5 75.5,71.0 75.5,73.0C75.5,75.0 75.0,77.1 74.6,79.0C74.2,80.9 74.1,83.6 72.8,85.9C71.5,88.2 68.2,92.5 65.9,94.6C63.6,96.7 60.0,99.1 57.3,100.0C54.6,100.9 50.3,101.1 48.0,100.5C45.7,99.9 43.0,97.5 42.2,96.0C41.4,94.5 41.9,92.5 42.6,90.5C43.3,88.5 45.3,85.1 46.9,83.0C48.5,80.9 50.8,78.2 53.0,76.3C55.2,74.4 59.1,72.1 61.6,70.6C64.1,69.1 67.5,67.3 69.5,66.5C71.5,65.7 73.7,64.5 74.6,65.5Z"/>
<path fill="#d08c7a" d="M70.4,74.2C71.9,75.2 72.7,79.2 72.4,81.6C72.1,84.0 70.1,88.0 68.5,90.2C66.9,92.4 63.9,95.1 61.6,96.3C59.3,97.5 55.3,98.3 53.0,98.4C50.7,98.5 47.6,98.0 46.5,97.0C45.4,96.0 45.1,93.9 45.6,92.0C46.1,90.1 48.1,86.5 49.5,84.5C50.9,82.5 53.0,80.5 55.0,79.0C57.0,77.5 60.3,75.3 62.6,74.6C64.9,73.9 68.9,73.2 70.4,74.2Z"/>
<ellipse fill="#f2bbd0" cx="58.3" cy="86.1" rx="11.8" ry="6.4" transform="rotate(-40 58.3 86.1)"/>
<ellipse fill="#fff6fa" cx="58.4" cy="85.7" rx="6.5" ry="3.0" transform="rotate(-40 58.4 85.7)"/>
<path fill="#a8cb7a" d="M54.1,109.0C54.4,107.7 57.4,105.3 59.0,104.1C60.5,103.0 63.7,100.9 65.4,100.1C67.2,99.3 70.6,99.4 71.9,98.5C73.2,97.5 74.2,94.0 75.2,92.8C76.1,91.6 78.0,89.8 79.2,89.6C80.4,89.4 83.5,90.4 84.1,91.2C84.6,91.9 84.0,94.4 83.3,95.2C82.5,96.1 79.5,96.6 78.4,97.7C77.3,98.7 75.7,101.5 75.2,103.3C74.6,105.2 74.2,109.4 74.3,111.4C74.5,113.5 75.0,117.3 76.0,118.7C76.9,120.1 80.8,121.1 81.6,122.0C82.5,122.8 83.3,124.7 82.4,125.2C81.6,125.7 77.2,126.2 75.2,126.0C73.1,125.8 69.0,124.6 67.1,123.6C65.1,122.6 62.0,120.0 60.6,118.7C59.2,117.4 57.4,115.2 56.5,113.9C55.7,112.6 53.8,110.3 54.1,109.0Z"/>
<path fill="#52a04e" d="M59.8,111.4C60.0,110.1 61.3,107.0 62.2,105.8C63.1,104.6 65.3,102.7 66.2,102.5C67.2,102.3 68.9,103.2 69.5,104.1C70.0,105.1 70.3,108.1 70.3,109.8C70.3,111.5 69.9,115.7 69.5,117.1C69.1,118.5 67.9,120.1 67.1,120.3C66.2,120.6 63.9,119.4 63.0,118.7C62.1,118.1 61.0,116.5 60.6,115.5C60.1,114.5 59.6,112.7 59.8,111.4Z"/>
</g></g></g>
<g filter="url(#bs)">
<rect x="326.3" y="476.50" width="7" height="3.4" fill="#3f8f3a" stroke="#b8b8b8" stroke-width="0.35"/>
<text class="g" x="335.1" y="479.15">-39 - -36</text>
<rect x="326.3" y="481.27" width="7" height="3.4" fill="#a0c060" stroke="#b8b8b8" stroke-width="0.35"/>
<text class="g" x="335.1" y="483.92">-35 - -32</text>
<rect x="326.3" y="486.04" width="7" height="3.4" fill="#f6f07e" stroke="#b8b8b8" stroke-width="0.35"/>
<text class="g" x="335.1" y="488.69">-31 - -28</text>
<rect x="326.3" y="490.81" width="7" height="3.4" fill="#fde074" stroke="#b8b8b8" stroke-width="0.35"/>
<text class="g" x="335.1" y="493.46">-27 - -25</text>
<rect x="326.3" y="495.58" width="7" height="3.4" fill="#fdc465" stroke="#b8b8b8" stroke-width="0.35"/>
<text class="g" x="335.1" y="498.23">-24 - -21</text>
<rect x="326.3" y="500.35" width="7" height="3.4" fill="#f0a264" stroke="#b8b8b8" stroke-width="0.35"/>
<text class="g" x="335.1" y="503.00">-20 - -18</text>
<rect x="326.3" y="505.12" width="7" height="3.4" fill="#d47868" stroke="#b8b8b8" stroke-width="0.35"/>
<text class="g" x="335.1" y="507.77">-17 - -14</text>
<rect x="326.3" y="509.89" width="7" height="3.4" fill="#f2a4bc" stroke="#b8b8b8" stroke-width="0.35"/>
<text class="g" x="335.1" y="512.54">-13 - -11</text>
<rect x="326.3" y="514.66" width="7" height="3.4" fill="#ffffff" stroke="#b8b8b8" stroke-width="0.35"/>
<text class="g" x="335.1" y="517.31">-10 - -7</text>
</g>
<g filter="url(#bt)"><text x="448.3" y="388.0" font-family="Liberation Sans, sans-serif" font-size="5.1" font-weight="bold" text-anchor="middle" fill="#222">N</text><polygon points="448.3,389.5 444.8,401.0 448.3,397.1" fill="#111"/><polygon points="448.3,389.5 451.8,401.0 448.3,397.1" fill="#fff" stroke="#111" stroke-width="0.5" stroke-linejoin="miter"/></g>
</g>
<text class="l" x="232.6" y="178.8" text-anchor="middle" filter="url(#bt)">(<tspan font-weight="bold">b</tspan>)</text>
<text class="l" x="232.5" y="362.9" text-anchor="middle" filter="url(#bt)">(<tspan font-weight="bold">c</tspan>)</text>
<text class="l" x="232.6" y="545.7" text-anchor="middle" filter="url(#bt)">(<tspan font-weight="bold">d</tspan>)</text>
</svg></body></html>
